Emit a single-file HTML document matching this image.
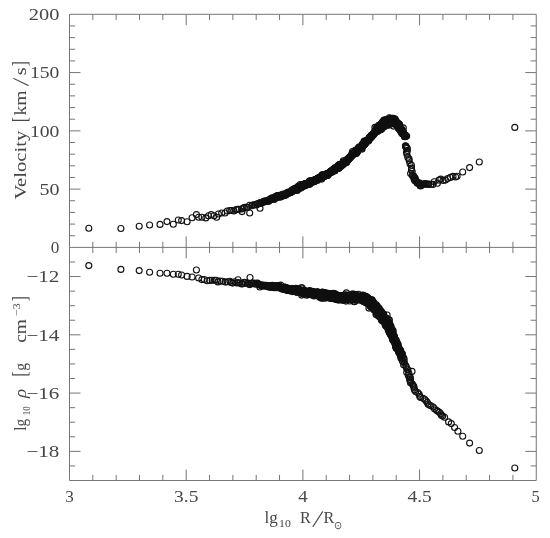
<!DOCTYPE html>
<html><head><meta charset="utf-8"><title>Velocity and density profile</title>
<style>
html,body{margin:0;padding:0;background:#fff;}
svg{display:block;}
text{font-family:"Liberation Serif",serif;fill:#474747;}
</style></head><body>
<svg width="550" height="538" viewBox="0 0 550 538">
<rect width="550" height="538" fill="#fff"/>
<path d="M69.5 14.3H536.25V480.5H69.5Z M69.5 247.4H536.25 M92.84 14.3v5.6 M92.84 241.8v11.2 M92.84 480.5v-5.6 M116.17 14.3v5.6 M116.17 241.8v11.2 M116.17 480.5v-5.6 M139.51 14.3v5.6 M139.51 241.8v11.2 M139.51 480.5v-5.6 M162.85 14.3v5.6 M162.85 241.8v11.2 M162.85 480.5v-5.6 M186.19 14.3v11.0 M186.19 236.4v22.0 M186.19 480.5v-11.0 M209.52 14.3v5.6 M209.52 241.8v11.2 M209.52 480.5v-5.6 M232.86 14.3v5.6 M232.86 241.8v11.2 M232.86 480.5v-5.6 M256.20 14.3v5.6 M256.20 241.8v11.2 M256.20 480.5v-5.6 M279.54 14.3v5.6 M279.54 241.8v11.2 M279.54 480.5v-5.6 M302.88 14.3v11.0 M302.88 236.4v22.0 M302.88 480.5v-11.0 M326.21 14.3v5.6 M326.21 241.8v11.2 M326.21 480.5v-5.6 M349.55 14.3v5.6 M349.55 241.8v11.2 M349.55 480.5v-5.6 M372.89 14.3v5.6 M372.89 241.8v11.2 M372.89 480.5v-5.6 M396.22 14.3v5.6 M396.22 241.8v11.2 M396.22 480.5v-5.6 M419.56 14.3v11.0 M419.56 236.4v22.0 M419.56 480.5v-11.0 M442.90 14.3v5.6 M442.90 241.8v11.2 M442.90 480.5v-5.6 M466.24 14.3v5.6 M466.24 241.8v11.2 M466.24 480.5v-5.6 M489.57 14.3v5.6 M489.57 241.8v11.2 M489.57 480.5v-5.6 M512.91 14.3v5.6 M512.91 241.8v11.2 M512.91 480.5v-5.6 M69.5 25.95h5.6 M536.25 25.95h-5.6 M69.5 37.61h5.6 M536.25 37.61h-5.6 M69.5 49.27h5.6 M536.25 49.27h-5.6 M69.5 60.92h5.6 M536.25 60.92h-5.6 M69.5 72.58h11.0 M536.25 72.58h-11.0 M69.5 84.23h5.6 M536.25 84.23h-5.6 M69.5 95.88h5.6 M536.25 95.88h-5.6 M69.5 107.54h5.6 M536.25 107.54h-5.6 M69.5 119.19h5.6 M536.25 119.19h-5.6 M69.5 130.85h11.0 M536.25 130.85h-11.0 M69.5 142.50h5.6 M536.25 142.50h-5.6 M69.5 154.16h5.6 M536.25 154.16h-5.6 M69.5 165.81h5.6 M536.25 165.81h-5.6 M69.5 177.47h5.6 M536.25 177.47h-5.6 M69.5 189.12h11.0 M536.25 189.12h-11.0 M69.5 200.78h5.6 M536.25 200.78h-5.6 M69.5 212.44h5.6 M536.25 212.44h-5.6 M69.5 224.09h5.6 M536.25 224.09h-5.6 M69.5 235.75h5.6 M536.25 235.75h-5.6 M69.5 261.97h5.6 M536.25 261.97h-5.6 M69.5 276.54h11.0 M536.25 276.54h-11.0 M69.5 291.11h5.6 M536.25 291.11h-5.6 M69.5 305.68h5.6 M536.25 305.68h-5.6 M69.5 320.24h5.6 M536.25 320.24h-5.6 M69.5 334.81h11.0 M536.25 334.81h-11.0 M69.5 349.38h5.6 M536.25 349.38h-5.6 M69.5 363.95h5.6 M536.25 363.95h-5.6 M69.5 378.52h5.6 M536.25 378.52h-5.6 M69.5 393.09h11.0 M536.25 393.09h-11.0 M69.5 407.66h5.6 M536.25 407.66h-5.6 M69.5 422.23h5.6 M536.25 422.23h-5.6 M69.5 436.79h5.6 M536.25 436.79h-5.6 M69.5 451.36h11.0 M536.25 451.36h-11.0 M69.5 465.93h5.6 M536.25 465.93h-5.6" fill="none" stroke="#767676" stroke-width="1"/>
<text x="59.4" y="20.1" font-size="17.2" text-anchor="end" textLength="30.6" lengthAdjust="spacingAndGlyphs">200</text>
<text x="59.4" y="78.4" font-size="17.2" text-anchor="end" textLength="29.4" lengthAdjust="spacingAndGlyphs">150</text>
<text x="59.4" y="136.7" font-size="17.2" text-anchor="end" textLength="29.4" lengthAdjust="spacingAndGlyphs">100</text>
<text x="59.4" y="194.9" font-size="17.2" text-anchor="end" textLength="20.0" lengthAdjust="spacingAndGlyphs">50</text>
<text x="59.4" y="253.2" font-size="17.2" text-anchor="end" textLength="8.6" lengthAdjust="spacingAndGlyphs">0</text>
<text x="59.4" y="282.3" font-size="17.2" text-anchor="end" textLength="33" lengthAdjust="spacingAndGlyphs">−12</text>
<text x="59.4" y="340.6" font-size="17.2" text-anchor="end" textLength="33" lengthAdjust="spacingAndGlyphs">−14</text>
<text x="59.4" y="398.9" font-size="17.2" text-anchor="end" textLength="33" lengthAdjust="spacingAndGlyphs">−16</text>
<text x="59.4" y="457.2" font-size="17.2" text-anchor="end" textLength="33" lengthAdjust="spacingAndGlyphs">−18</text>
<text x="69.5" y="501.6" font-size="17.2" text-anchor="middle" textLength="8.6" lengthAdjust="spacingAndGlyphs">3</text>
<text x="186.2" y="501.6" font-size="17.2" text-anchor="middle" textLength="24.3" lengthAdjust="spacingAndGlyphs">3.5</text>
<text x="302.9" y="501.6" font-size="17.2" text-anchor="middle" textLength="9.4" lengthAdjust="spacingAndGlyphs">4</text>
<text x="419.6" y="501.6" font-size="17.2" text-anchor="middle" textLength="24.3" lengthAdjust="spacingAndGlyphs">4.5</text>
<text x="535.5" y="501.6" font-size="17.2" text-anchor="middle" textLength="8.2" lengthAdjust="spacingAndGlyphs">5</text>
<text font-size="17"><tspan x="264.4" y="523.3" textLength="13.3" lengthAdjust="spacingAndGlyphs">lg</tspan><tspan x="279" y="527.4" font-size="9.5" textLength="11.8" lengthAdjust="spacingAndGlyphs">10</tspan> <tspan x="300" y="523.3" textLength="10.8" lengthAdjust="spacingAndGlyphs">R</tspan><tspan x="312.2" y="526.6" font-size="26" rotate="14">/</tspan><tspan x="323.4" y="523.3" textLength="10.8" lengthAdjust="spacingAndGlyphs">R</tspan><tspan x="334.2" y="528.6" font-size="10.5" textLength="8" lengthAdjust="spacingAndGlyphs">⊙</tspan></text>
<text transform="translate(25.8 199.5) rotate(-90)" font-size="17"><tspan x="0" y="0" textLength="68.8" lengthAdjust="spacingAndGlyphs">Velocity</tspan> <tspan x="77.6" y="0" font-size="20.5" textLength="5" lengthAdjust="spacingAndGlyphs">[</tspan><tspan x="84" y="0" textLength="25" lengthAdjust="spacingAndGlyphs">km</tspan><tspan x="113.2" y="2.4" font-size="24" rotate="7">/</tspan><tspan x="124.2" y="0" textLength="8" lengthAdjust="spacingAndGlyphs">s</tspan><tspan x="133.3" y="0" font-size="20.5" textLength="5" lengthAdjust="spacingAndGlyphs">]</tspan></text>
<text transform="translate(25.8 430.8) rotate(-90)" font-size="17"><tspan x="0" y="0" textLength="11.9" lengthAdjust="spacingAndGlyphs">lg</tspan><tspan x="15.6" y="3.7" font-size="9.5" textLength="8.9" lengthAdjust="spacingAndGlyphs">10</tspan> <tspan x="32.7" y="0" font-style="italic" textLength="9.2" lengthAdjust="spacingAndGlyphs">ρ</tspan> <tspan x="54.4" y="0" font-size="20.5" textLength="5" lengthAdjust="spacingAndGlyphs">[</tspan><tspan x="60" y="0" textLength="7.8" lengthAdjust="spacingAndGlyphs">g</tspan> <tspan x="88" y="0" textLength="23.8" lengthAdjust="spacingAndGlyphs">cm</tspan><tspan x="114.8" y="-5.9" font-size="9.5" textLength="12.6" lengthAdjust="spacingAndGlyphs">−3</tspan><tspan x="129.6" y="0" font-size="20.5" textLength="5" lengthAdjust="spacingAndGlyphs">]</tspan></text>
<g fill="none" stroke="#000" stroke-linecap="round"><path d="M272.0 199.0L273.3 198.5" stroke-width="5.5"/><path d="M273.3 198.5L274.6 198.1" stroke-width="5.5"/><path d="M274.6 198.1L275.8 197.7" stroke-width="5.5"/><path d="M275.8 197.7L277.1 197.2" stroke-width="5.5"/><path d="M277.1 197.2L278.3 196.7" stroke-width="5.5"/><path d="M278.3 196.7L279.6 196.3" stroke-width="5.5"/><path d="M279.6 196.3L280.8 195.8" stroke-width="5.5"/><path d="M280.8 195.8L282.1 195.3" stroke-width="5.6"/><path d="M282.1 195.3L283.3 194.8" stroke-width="5.6"/><path d="M283.3 194.8L284.6 194.4" stroke-width="5.6"/><path d="M284.6 194.4L285.8 193.9" stroke-width="5.6"/><path d="M285.8 193.9L287.1 193.4" stroke-width="5.6"/><path d="M287.1 193.4L288.3 192.9" stroke-width="5.6"/><path d="M288.3 192.9L289.6 192.4" stroke-width="5.6"/><path d="M289.6 192.4L290.8 191.9" stroke-width="5.6"/><path d="M290.8 191.9L292.0 191.3" stroke-width="5.6"/><path d="M292.0 191.3L293.2 190.7" stroke-width="5.6"/><path d="M293.2 190.7L294.4 190.1" stroke-width="5.6"/><path d="M294.4 190.1L295.6 189.6" stroke-width="5.7"/><path d="M295.6 189.6L296.8 189.0" stroke-width="5.7"/><path d="M296.8 189.0L298.0 188.4" stroke-width="5.7"/><path d="M298.0 188.4L299.3 187.8" stroke-width="5.7"/><path d="M299.3 187.8L300.5 187.2" stroke-width="5.7"/><path d="M300.5 187.2L301.7 186.6" stroke-width="5.7"/><path d="M301.7 186.6L302.9 186.0" stroke-width="5.7"/><path d="M302.9 186.0L304.1 185.5" stroke-width="5.7"/><path d="M304.1 185.5L305.3 184.9" stroke-width="5.7"/><path d="M305.3 184.9L306.5 184.3" stroke-width="5.7"/><path d="M306.5 184.3L307.7 183.7" stroke-width="5.7"/><path d="M307.7 183.7L308.9 183.1" stroke-width="5.6"/><path d="M308.9 183.1L310.1 182.5" stroke-width="5.6"/><path d="M310.1 182.5L311.3 181.9" stroke-width="5.6"/><path d="M311.3 181.9L312.5 181.3" stroke-width="5.6"/><path d="M312.5 181.3L313.7 180.7" stroke-width="5.6"/><path d="M313.7 180.7L314.9 180.1" stroke-width="5.6"/><path d="M314.9 180.1L316.1 179.5" stroke-width="5.6"/><path d="M316.1 179.5L317.3 178.9" stroke-width="5.6"/><path d="M317.3 178.9L318.5 178.3" stroke-width="5.6"/><path d="M318.5 178.3L319.7 177.7" stroke-width="5.6"/><path d="M319.7 177.7L320.9 177.2" stroke-width="5.6"/><path d="M320.9 177.2L322.1 176.6" stroke-width="5.5"/><path d="M322.1 176.6L323.3 176.0" stroke-width="5.5"/><path d="M323.3 176.0L324.5 175.4" stroke-width="5.5"/><path d="M324.5 175.4L325.7 174.8" stroke-width="5.5"/><path d="M325.7 174.8L326.9 174.2" stroke-width="5.5"/><path d="M326.9 174.2L328.1 173.6" stroke-width="5.5"/><path d="M328.1 173.6L329.3 173.0" stroke-width="5.5"/><path d="M329.3 173.0L330.4 172.3" stroke-width="5.5"/><path d="M330.4 172.3L331.5 171.5" stroke-width="5.5"/><path d="M331.5 171.5L332.6 170.8" stroke-width="5.5"/><path d="M332.6 170.8L333.8 170.0" stroke-width="5.5"/><path d="M333.8 170.0L334.9 169.3" stroke-width="5.4"/><path d="M334.9 169.3L336.0 168.5" stroke-width="5.4"/><path d="M336.0 168.5L337.1 167.8" stroke-width="5.4"/><path d="M337.1 167.8L338.2 167.0" stroke-width="5.4"/><path d="M338.2 167.0L339.3 166.2" stroke-width="5.4"/><path d="M339.3 166.2L340.3 165.4" stroke-width="5.4"/><path d="M340.3 165.4L341.4 164.6" stroke-width="5.4"/><path d="M341.4 164.6L342.4 163.7" stroke-width="5.4"/><path d="M342.4 163.7L343.5 162.9" stroke-width="5.4"/><path d="M343.5 162.9L344.6 162.1" stroke-width="5.4"/><path d="M344.6 162.1L345.6 161.3" stroke-width="5.4"/><path d="M345.6 161.3L346.7 160.4" stroke-width="5.4"/><path d="M346.7 160.4L347.7 159.6" stroke-width="5.4"/><path d="M347.7 159.6L348.7 158.7" stroke-width="5.4"/><path d="M348.7 158.7L349.6 157.7" stroke-width="5.4"/><path d="M349.6 157.7L350.6 156.8" stroke-width="5.4"/><path d="M350.6 156.8L351.6 155.9" stroke-width="5.4"/><path d="M351.6 155.9L352.6 155.0" stroke-width="5.4"/><path d="M352.6 155.0L353.6 154.1" stroke-width="5.4"/><path d="M353.6 154.1L354.5 153.2" stroke-width="5.4"/><path d="M354.5 153.2L355.5 152.3" stroke-width="5.4"/><path d="M355.5 152.3L356.5 151.3" stroke-width="5.4"/><path d="M356.5 151.3L357.5 150.4" stroke-width="5.4"/><path d="M357.5 150.4L358.5 149.5" stroke-width="5.4"/><path d="M358.5 149.5L359.5 148.6" stroke-width="5.4"/><path d="M359.5 148.6L360.4 147.7" stroke-width="5.4"/><path d="M360.4 147.7L361.4 146.8" stroke-width="5.4"/><path d="M361.4 146.8L362.3 145.8" stroke-width="5.4"/><path d="M362.3 145.8L363.2 144.8" stroke-width="5.4"/><path d="M363.2 144.8L364.1 143.8" stroke-width="5.4"/><path d="M364.1 143.8L365.0 142.8" stroke-width="5.4"/><path d="M365.0 142.8L365.9 141.8" stroke-width="5.4"/><path d="M365.9 141.8L366.8 140.8" stroke-width="5.4"/><path d="M366.8 140.8L367.7 139.8" stroke-width="5.4"/><path d="M367.7 139.8L368.6 138.8" stroke-width="5.4"/><path d="M368.6 138.8L369.5 137.9" stroke-width="5.4"/><path d="M369.5 137.9L370.4 136.9" stroke-width="5.4"/><path d="M370.4 136.9L371.3 135.9" stroke-width="5.4"/><path d="M371.3 135.9L372.3 134.9" stroke-width="5.4"/><path d="M372.3 134.9L373.2 133.9" stroke-width="5.5"/><path d="M373.2 133.9L374.1 133.0" stroke-width="5.8"/><path d="M374.1 133.0L375.0 132.0" stroke-width="6.1"/><path d="M375.0 132.0L375.9 131.0" stroke-width="6.4"/><path d="M375.9 131.0L376.9 130.1" stroke-width="6.7"/><path d="M376.9 130.1L377.8 129.1" stroke-width="7.1"/><path d="M377.8 129.1L378.8 128.2" stroke-width="7.4"/><path d="M378.8 128.2L379.8 127.3" stroke-width="7.7"/><path d="M379.8 127.3L380.8 126.4" stroke-width="8.0"/><path d="M380.8 126.4L381.8 125.5" stroke-width="8.4"/><path d="M381.8 125.5L382.8 124.6" stroke-width="8.7"/><path d="M382.8 124.6L383.8 123.8" stroke-width="8.9"/><path d="M383.8 123.8L384.9 123.0" stroke-width="9.1"/><path d="M384.9 123.0L386.1 122.3" stroke-width="9.3"/><path d="M386.1 122.3L387.2 121.6" stroke-width="9.6"/><path d="M387.2 121.6L388.4 121.1" stroke-width="9.8"/><path d="M388.4 121.1L389.7 120.8" stroke-width="10.0"/><path d="M389.7 120.8L391.0 120.5" stroke-width="10.2"/><path d="M391.0 120.5L392.3 120.8" stroke-width="9.9"/><path d="M392.3 120.8L393.6 121.1" stroke-width="9.4"/><path d="M393.6 121.1L394.6 121.9" stroke-width="9.0"/><path d="M394.6 121.9L395.5 122.9" stroke-width="8.6"/><path d="M395.5 122.9L396.4 123.9" stroke-width="8.2"/><path d="M396.4 123.9L397.3 124.9" stroke-width="7.9"/><path d="M397.3 124.9L398.1 126.0" stroke-width="7.6"/><path d="M398.1 126.0L398.8 127.1" stroke-width="7.3"/><path d="M398.8 127.1L399.6 128.2" stroke-width="7.1"/><path d="M399.6 128.2L400.3 129.3" stroke-width="6.8"/><path d="M400.3 129.3L401.1 130.4" stroke-width="6.6"/><path d="M401.1 130.4L401.8 131.6" stroke-width="6.4"/><path d="M401.8 131.6L402.5 132.7" stroke-width="6.2"/><path d="M402.5 132.7L403.3 133.8" stroke-width="6.0"/><path d="M403.3 133.8L404.0 134.9" stroke-width="5.8"/><path d="M404.0 134.9L404.8 136.0" stroke-width="5.6"/><path d="M404.8 136.0L405.4 136.9" stroke-width="5.4"/><path d="M264.0 285.5L265.9 285.7" stroke-width="5.5"/><path d="M265.9 285.7L267.9 286.0" stroke-width="5.6"/><path d="M267.9 286.0L269.8 286.3" stroke-width="5.8"/><path d="M269.8 286.3L271.7 286.6" stroke-width="5.9"/><path d="M271.7 286.6L273.6 286.9" stroke-width="6.0"/><path d="M273.6 286.9L275.6 287.1" stroke-width="6.1"/><path d="M275.6 287.1L277.5 287.4" stroke-width="6.2"/><path d="M277.5 287.4L279.4 287.7" stroke-width="6.3"/><path d="M279.4 287.7L281.3 288.0" stroke-width="6.4"/><path d="M281.3 288.0L283.3 288.3" stroke-width="6.5"/><path d="M283.3 288.3L285.2 288.5" stroke-width="6.6"/><path d="M285.2 288.5L287.1 288.8" stroke-width="6.7"/><path d="M287.1 288.8L289.0 289.1" stroke-width="6.8"/><path d="M289.0 289.1L291.0 289.3" stroke-width="6.9"/><path d="M291.0 289.3L292.9 289.6" stroke-width="7.0"/><path d="M292.9 289.6L294.8 289.9" stroke-width="7.1"/><path d="M294.8 289.9L296.7 290.2" stroke-width="7.2"/><path d="M296.7 290.2L298.6 290.6" stroke-width="7.3"/><path d="M298.6 290.6L300.6 291.0" stroke-width="7.4"/><path d="M300.6 291.0L302.5 291.4" stroke-width="7.6"/><path d="M302.5 291.4L304.4 291.8" stroke-width="7.7"/><path d="M304.4 291.8L306.3 292.2" stroke-width="7.8"/><path d="M306.3 292.2L308.2 292.5" stroke-width="8.0"/><path d="M308.2 292.5L310.1 292.9" stroke-width="8.1"/><path d="M310.1 292.9L312.0 293.3" stroke-width="8.2"/><path d="M312.0 293.3L313.9 293.6" stroke-width="8.3"/><path d="M313.9 293.6L315.8 294.0" stroke-width="8.5"/><path d="M315.8 294.0L317.7 294.3" stroke-width="8.6"/><path d="M317.7 294.3L319.7 294.6" stroke-width="8.7"/><path d="M319.7 294.6L321.6 295.0" stroke-width="8.8"/><path d="M321.6 295.0L323.5 295.3" stroke-width="9.0"/><path d="M323.5 295.3L325.4 295.6" stroke-width="9.1"/><path d="M325.4 295.6L327.3 295.9" stroke-width="9.2"/><path d="M327.3 295.9L329.3 296.1" stroke-width="9.2"/><path d="M329.3 296.1L331.2 296.4" stroke-width="9.2"/><path d="M331.2 296.4L333.1 296.6" stroke-width="9.2"/><path d="M333.1 296.6L335.1 296.9" stroke-width="9.2"/><path d="M335.1 296.9L337.0 297.0" stroke-width="9.2"/><path d="M337.0 297.0L338.9 297.1" stroke-width="9.2"/><path d="M338.9 297.1L340.9 297.1" stroke-width="9.2"/><path d="M340.9 297.1L342.8 297.2" stroke-width="9.2"/><path d="M342.8 297.2L344.8 297.2" stroke-width="9.2"/><path d="M344.8 297.2L346.7 297.3" stroke-width="9.2"/><path d="M346.7 297.3L348.7 297.3" stroke-width="9.2"/><path d="M348.7 297.3L350.6 297.2" stroke-width="9.2"/><path d="M350.6 297.2L352.6 297.2" stroke-width="9.2"/><path d="M352.6 297.2L354.5 297.2" stroke-width="9.2"/><path d="M354.5 297.2L356.5 297.1" stroke-width="9.2"/><path d="M356.5 297.1L358.4 297.3" stroke-width="9.2"/><path d="M358.4 297.3L360.3 297.7" stroke-width="9.2"/><path d="M360.3 297.7L362.2 298.1" stroke-width="9.2"/><path d="M362.2 298.1L364.0 298.6" stroke-width="9.4"/><path d="M364.0 298.6L365.8 299.3" stroke-width="9.6"/><path d="M365.8 299.3L367.4 300.4" stroke-width="9.8"/><path d="M367.4 300.4L368.9 301.6" stroke-width="9.9"/><path d="M368.9 301.6L370.5 302.8" stroke-width="10.1"/><path d="M370.5 302.8L371.9 304.1" stroke-width="10.2"/><path d="M371.9 304.1L373.2 305.5" stroke-width="10.4"/><path d="M373.2 305.5L374.6 307.0" stroke-width="10.3"/><path d="M374.6 307.0L375.9 308.4" stroke-width="10.3"/><path d="M375.9 308.4L377.1 309.9" stroke-width="10.2"/><path d="M377.1 309.9L378.3 311.4" stroke-width="10.1"/><path d="M378.3 311.4L379.5 313.0" stroke-width="10.1"/><path d="M379.5 313.0L380.7 314.5" stroke-width="10.0"/><path d="M380.7 314.5L381.8 316.1" stroke-width="10.0"/><path d="M381.8 316.1L383.0 317.6" stroke-width="9.9"/><path d="M383.0 317.6L384.1 319.2" stroke-width="9.9"/><path d="M384.1 319.2L385.3 320.8" stroke-width="9.8"/><path d="M385.3 320.8L386.3 322.4" stroke-width="9.5"/><path d="M386.3 322.4L387.3 324.1" stroke-width="9.2"/><path d="M387.3 324.1L388.1 325.9" stroke-width="8.9"/><path d="M388.1 325.9L389.0 327.6" stroke-width="8.7"/><path d="M389.0 327.6L389.8 329.4" stroke-width="8.4"/><path d="M389.8 329.4L390.7 331.1" stroke-width="8.2"/><path d="M390.7 331.1L391.5 332.9" stroke-width="8.0"/><path d="M391.5 332.9L392.3 334.6" stroke-width="7.7"/><path d="M392.3 334.6L393.1 336.4" stroke-width="7.6"/><path d="M393.1 336.4L393.9 338.2" stroke-width="7.5"/><path d="M393.9 338.2L394.6 340.0" stroke-width="7.4"/><path d="M394.6 340.0L395.4 341.8" stroke-width="7.3"/><path d="M395.4 341.8L396.2 343.6" stroke-width="7.2"/><path d="M396.2 343.6L396.9 345.4" stroke-width="7.1"/><path d="M396.9 345.4L397.7 347.2" stroke-width="7.0"/><path d="M397.7 347.2L398.4 349.0" stroke-width="6.9"/><path d="M398.4 349.0L399.2 350.8" stroke-width="6.8"/></g>
<g fill="none" stroke="#111" stroke-width="1.12"><circle cx="88.8" cy="228.3" r="3.0"/><circle cx="120.9" cy="228.5" r="3.0"/><circle cx="139.2" cy="226.2" r="3.0"/><circle cx="149.6" cy="225.0" r="3.0"/><circle cx="160.0" cy="224.4" r="3.0"/><circle cx="167.0" cy="221.6" r="3.0"/><circle cx="173.3" cy="224.3" r="3.0"/><circle cx="178.3" cy="220.0" r="3.0"/><circle cx="181.6" cy="220.6" r="3.0"/><circle cx="187.1" cy="221.7" r="3.0"/><circle cx="192.1" cy="217.7" r="3.0"/><circle cx="196.4" cy="214.6" r="3.0"/><circle cx="198.6" cy="217.3" r="3.0"/><circle cx="201.9" cy="217.3" r="3.0"/><circle cx="88.8" cy="265.6" r="3.0"/><circle cx="120.9" cy="269.4" r="3.0"/><circle cx="139.2" cy="270.6" r="3.0"/><circle cx="149.6" cy="272.2" r="3.0"/><circle cx="160.0" cy="273.2" r="3.0"/><circle cx="167.0" cy="273.2" r="3.0"/><circle cx="173.3" cy="274.3" r="3.0"/><circle cx="178.3" cy="274.2" r="3.0"/><circle cx="181.6" cy="275.0" r="3.0"/><circle cx="187.1" cy="276.4" r="3.0"/><circle cx="192.1" cy="277.0" r="3.0"/><circle cx="196.4" cy="270.0" r="3.0"/><circle cx="198.6" cy="278.0" r="3.0"/><circle cx="201.9" cy="279.6" r="3.0"/><circle cx="205.8" cy="217.9" r="3.0"/><circle cx="208.5" cy="215.7" r="3.0"/><circle cx="211.2" cy="214.6" r="3.0"/><circle cx="214.0" cy="215.7" r="3.0"/><circle cx="216.7" cy="217.3" r="3.0"/><circle cx="218.4" cy="214.0" r="3.0"/><circle cx="221.7" cy="213.0" r="3.0"/><circle cx="225.0" cy="213.0" r="3.0"/><circle cx="249.7" cy="213.0" r="3.0"/><circle cx="260.0" cy="208.3" r="3.0"/><circle cx="242.0" cy="211.6" r="3.0"/><circle cx="250.0" cy="277.5" r="3.0"/><circle cx="238.0" cy="279.7" r="3.0"/><circle cx="412.0" cy="371.4" r="3.0"/><circle cx="227.2" cy="211.0" r="3.0"/><circle cx="229.7" cy="210.6" r="3.0"/><circle cx="231.6" cy="210.5" r="3.0"/><circle cx="233.9" cy="210.9" r="3.0"/><circle cx="236.1" cy="209.6" r="3.0"/><circle cx="237.6" cy="209.4" r="3.0"/><circle cx="239.0" cy="209.2" r="3.0"/><circle cx="241.7" cy="209.0" r="3.0"/><circle cx="242.9" cy="208.2" r="3.0"/><circle cx="244.4" cy="207.4" r="3.0"/><circle cx="246.4" cy="207.4" r="3.0"/><circle cx="247.9" cy="207.2" r="3.0"/><circle cx="249.5" cy="205.3" r="3.0"/><circle cx="251.7" cy="205.8" r="3.0"/><circle cx="252.6" cy="205.1" r="3.0"/><circle cx="254.2" cy="204.8" r="3.0"/><circle cx="255.1" cy="204.8" r="3.0"/><circle cx="256.6" cy="204.9" r="3.0"/><circle cx="257.7" cy="203.5" r="3.0"/><circle cx="259.1" cy="203.5" r="3.0"/><circle cx="260.1" cy="202.5" r="3.0"/><circle cx="260.9" cy="203.1" r="3.0"/><circle cx="261.7" cy="203.1" r="3.0"/><circle cx="262.7" cy="202.3" r="3.0"/><circle cx="263.2" cy="201.9" r="3.0"/><circle cx="263.9" cy="201.2" r="3.0"/><circle cx="264.6" cy="201.0" r="3.0"/><circle cx="265.6" cy="201.7" r="3.0"/><circle cx="266.2" cy="201.3" r="3.0"/><circle cx="266.6" cy="200.9" r="3.0"/><circle cx="267.2" cy="201.5" r="3.0"/><circle cx="267.5" cy="200.4" r="3.0"/><circle cx="268.0" cy="200.5" r="3.0"/><circle cx="268.7" cy="201.2" r="3.0"/><circle cx="269.0" cy="200.7" r="3.0"/><circle cx="269.2" cy="199.7" r="3.0"/><circle cx="269.7" cy="199.7" r="3.0"/><circle cx="270.3" cy="199.4" r="3.0"/><circle cx="270.7" cy="198.6" r="3.0"/><circle cx="271.4" cy="199.2" r="3.0"/><circle cx="271.7" cy="198.7" r="3.0"/><circle cx="272.0" cy="197.7" r="3.0"/><circle cx="273.0" cy="198.8" r="3.0"/><circle cx="273.8" cy="199.4" r="3.0"/><circle cx="274.1" cy="198.3" r="3.0"/><circle cx="274.7" cy="199.1" r="3.0"/><circle cx="274.9" cy="198.0" r="3.0"/><circle cx="274.9" cy="196.9" r="3.0"/><circle cx="275.5" cy="197.2" r="3.0"/><circle cx="275.8" cy="196.8" r="3.0"/><circle cx="276.3" cy="196.4" r="3.0"/><circle cx="277.2" cy="197.5" r="3.0"/><circle cx="277.6" cy="197.2" r="3.0"/><circle cx="277.3" cy="195.6" r="3.0"/><circle cx="277.6" cy="195.7" r="3.0"/><circle cx="278.6" cy="197.0" r="3.0"/><circle cx="278.5" cy="195.6" r="3.0"/><circle cx="279.1" cy="196.2" r="3.0"/><circle cx="279.2" cy="195.8" r="3.0"/><circle cx="279.4" cy="195.2" r="3.0"/><circle cx="280.6" cy="197.1" r="3.0"/><circle cx="280.4" cy="195.5" r="3.0"/><circle cx="280.9" cy="196.1" r="3.0"/><circle cx="281.4" cy="196.6" r="3.0"/><circle cx="281.5" cy="196.1" r="3.0"/><circle cx="281.5" cy="195.2" r="3.0"/><circle cx="282.0" cy="195.5" r="3.0"/><circle cx="282.7" cy="195.9" r="3.0"/><circle cx="282.4" cy="194.4" r="3.0"/><circle cx="282.9" cy="194.6" r="3.0"/><circle cx="283.3" cy="195.0" r="3.0"/><circle cx="283.5" cy="194.2" r="3.0"/><circle cx="283.9" cy="194.3" r="3.0"/><circle cx="284.7" cy="195.4" r="3.0"/><circle cx="285.0" cy="195.2" r="3.0"/><circle cx="285.4" cy="194.9" r="3.0"/><circle cx="285.3" cy="194.0" r="3.0"/><circle cx="285.9" cy="194.8" r="3.0"/><circle cx="286.1" cy="194.6" r="3.0"/><circle cx="286.0" cy="193.4" r="3.0"/><circle cx="286.6" cy="194.0" r="3.0"/><circle cx="286.8" cy="193.6" r="3.0"/><circle cx="287.1" cy="193.2" r="3.0"/><circle cx="287.6" cy="193.4" r="3.0"/><circle cx="287.6" cy="192.6" r="3.0"/><circle cx="287.9" cy="192.3" r="3.0"/><circle cx="288.4" cy="193.3" r="3.0"/><circle cx="288.6" cy="192.9" r="3.0"/><circle cx="288.6" cy="192.0" r="3.0"/><circle cx="289.3" cy="192.9" r="3.0"/><circle cx="289.4" cy="192.5" r="3.0"/><circle cx="289.6" cy="192.3" r="3.0"/><circle cx="290.0" cy="192.6" r="3.0"/><circle cx="290.2" cy="192.4" r="3.0"/><circle cx="290.5" cy="192.4" r="3.0"/><circle cx="290.8" cy="192.3" r="3.0"/><circle cx="290.8" cy="191.6" r="3.0"/><circle cx="291.3" cy="191.9" r="3.0"/><circle cx="291.5" cy="191.8" r="3.0"/><circle cx="291.8" cy="191.8" r="3.0"/><circle cx="292.0" cy="191.5" r="3.0"/><circle cx="291.7" cy="190.2" r="3.0"/><circle cx="292.4" cy="190.8" r="3.0"/><circle cx="292.7" cy="190.8" r="3.0"/><circle cx="292.5" cy="189.9" r="3.0"/><circle cx="292.9" cy="190.2" r="3.0"/><circle cx="293.1" cy="190.1" r="3.0"/><circle cx="293.8" cy="190.8" r="3.0"/><circle cx="293.4" cy="189.5" r="3.0"/><circle cx="294.0" cy="190.2" r="3.0"/><circle cx="294.0" cy="189.3" r="3.0"/><circle cx="294.3" cy="189.4" r="3.0"/><circle cx="294.6" cy="189.4" r="3.0"/><circle cx="294.7" cy="189.1" r="3.0"/><circle cx="294.8" cy="188.9" r="3.0"/><circle cx="294.8" cy="188.2" r="3.0"/><circle cx="295.6" cy="189.1" r="3.0"/><circle cx="295.6" cy="188.5" r="3.0"/><circle cx="296.3" cy="189.5" r="3.0"/><circle cx="296.5" cy="189.2" r="3.0"/><circle cx="297.2" cy="190.4" r="3.0"/><circle cx="296.5" cy="188.3" r="3.0"/><circle cx="297.4" cy="189.8" r="3.0"/><circle cx="296.7" cy="187.9" r="3.0"/><circle cx="297.5" cy="188.8" r="3.0"/><circle cx="297.9" cy="189.0" r="3.0"/><circle cx="297.8" cy="188.3" r="3.0"/><circle cx="298.2" cy="188.5" r="3.0"/><circle cx="298.6" cy="188.7" r="3.0"/><circle cx="298.3" cy="187.7" r="3.0"/><circle cx="298.4" cy="187.4" r="3.0"/><circle cx="298.1" cy="186.4" r="3.0"/><circle cx="299.4" cy="188.5" r="3.0"/><circle cx="299.3" cy="187.8" r="3.0"/><circle cx="299.3" cy="187.2" r="3.0"/><circle cx="299.9" cy="187.8" r="3.0"/><circle cx="300.1" cy="187.5" r="3.0"/><circle cx="300.5" cy="188.0" r="3.0"/><circle cx="300.1" cy="186.8" r="3.0"/><circle cx="300.8" cy="187.7" r="3.0"/><circle cx="300.8" cy="187.0" r="3.0"/><circle cx="301.2" cy="187.5" r="3.0"/><circle cx="300.1" cy="184.6" r="3.0"/><circle cx="301.1" cy="186.3" r="3.0"/><circle cx="301.3" cy="186.0" r="3.0"/><circle cx="301.3" cy="185.7" r="3.0"/><circle cx="302.2" cy="186.9" r="3.0"/><circle cx="302.2" cy="186.3" r="3.0"/><circle cx="301.8" cy="185.1" r="3.0"/><circle cx="302.1" cy="185.3" r="3.0"/><circle cx="302.4" cy="185.3" r="3.0"/><circle cx="302.6" cy="185.3" r="3.0"/><circle cx="303.2" cy="186.1" r="3.0"/><circle cx="302.8" cy="184.7" r="3.0"/><circle cx="303.0" cy="184.7" r="3.0"/><circle cx="303.8" cy="185.6" r="3.0"/><circle cx="303.8" cy="185.2" r="3.0"/><circle cx="304.4" cy="185.9" r="3.0"/><circle cx="304.1" cy="184.9" r="3.0"/><circle cx="304.4" cy="184.8" r="3.0"/><circle cx="305.1" cy="185.7" r="3.0"/><circle cx="304.6" cy="184.3" r="3.0"/><circle cx="305.2" cy="184.7" r="3.0"/><circle cx="304.8" cy="183.6" r="3.0"/><circle cx="305.1" cy="183.9" r="3.0"/><circle cx="305.4" cy="184.0" r="3.0"/><circle cx="305.7" cy="184.1" r="3.0"/><circle cx="305.7" cy="183.7" r="3.0"/><circle cx="306.4" cy="184.4" r="3.0"/><circle cx="306.6" cy="184.6" r="3.0"/><circle cx="306.4" cy="183.7" r="3.0"/><circle cx="307.1" cy="184.6" r="3.0"/><circle cx="307.3" cy="184.6" r="3.0"/><circle cx="307.5" cy="184.7" r="3.0"/><circle cx="307.3" cy="183.9" r="3.0"/><circle cx="307.6" cy="184.1" r="3.0"/><circle cx="307.8" cy="184.1" r="3.0"/><circle cx="308.1" cy="184.3" r="3.0"/><circle cx="308.1" cy="183.8" r="3.0"/><circle cx="308.3" cy="183.6" r="3.0"/><circle cx="308.8" cy="184.2" r="3.0"/><circle cx="309.0" cy="184.0" r="3.0"/><circle cx="308.6" cy="182.9" r="3.0"/><circle cx="309.1" cy="183.3" r="3.0"/><circle cx="309.8" cy="184.3" r="3.0"/><circle cx="308.9" cy="182.0" r="3.0"/><circle cx="309.0" cy="181.5" r="3.0"/><circle cx="309.7" cy="182.6" r="3.0"/><circle cx="309.4" cy="181.8" r="3.0"/><circle cx="310.3" cy="183.1" r="3.0"/><circle cx="309.9" cy="182.1" r="3.0"/><circle cx="309.8" cy="181.4" r="3.0"/><circle cx="309.7" cy="180.7" r="3.0"/><circle cx="310.8" cy="182.4" r="3.0"/><circle cx="310.4" cy="181.2" r="3.0"/><circle cx="310.5" cy="181.3" r="3.0"/><circle cx="310.9" cy="181.6" r="3.0"/><circle cx="310.7" cy="180.9" r="3.0"/><circle cx="311.2" cy="181.3" r="3.0"/><circle cx="311.6" cy="181.5" r="3.0"/><circle cx="311.8" cy="181.3" r="3.0"/><circle cx="311.8" cy="181.1" r="3.0"/><circle cx="312.6" cy="182.2" r="3.0"/><circle cx="312.5" cy="181.5" r="3.0"/><circle cx="312.9" cy="181.7" r="3.0"/><circle cx="312.9" cy="181.0" r="3.0"/><circle cx="313.5" cy="181.8" r="3.0"/><circle cx="313.5" cy="181.4" r="3.0"/><circle cx="313.6" cy="181.1" r="3.0"/><circle cx="314.0" cy="181.3" r="3.0"/><circle cx="314.2" cy="181.4" r="3.0"/><circle cx="314.6" cy="181.5" r="3.0"/><circle cx="314.3" cy="180.7" r="3.0"/><circle cx="314.5" cy="180.4" r="3.0"/><circle cx="314.6" cy="180.3" r="3.0"/><circle cx="314.9" cy="180.4" r="3.0"/><circle cx="314.7" cy="179.6" r="3.0"/><circle cx="315.4" cy="180.5" r="3.0"/><circle cx="315.3" cy="179.7" r="3.0"/><circle cx="315.5" cy="179.8" r="3.0"/><circle cx="315.7" cy="179.8" r="3.0"/><circle cx="315.7" cy="179.3" r="3.0"/><circle cx="316.1" cy="179.6" r="3.0"/><circle cx="316.3" cy="179.7" r="3.0"/><circle cx="316.4" cy="179.6" r="3.0"/><circle cx="316.5" cy="179.2" r="3.0"/><circle cx="317.2" cy="180.5" r="3.0"/><circle cx="316.8" cy="179.2" r="3.0"/><circle cx="317.3" cy="179.7" r="3.0"/><circle cx="317.1" cy="178.8" r="3.0"/><circle cx="317.7" cy="179.6" r="3.0"/><circle cx="317.4" cy="178.5" r="3.0"/><circle cx="317.6" cy="178.5" r="3.0"/><circle cx="317.7" cy="178.4" r="3.0"/><circle cx="318.2" cy="178.7" r="3.0"/><circle cx="318.1" cy="178.0" r="3.0"/><circle cx="319.0" cy="179.1" r="3.0"/><circle cx="318.7" cy="178.2" r="3.0"/><circle cx="318.6" cy="177.7" r="3.0"/><circle cx="318.8" cy="177.7" r="3.0"/><circle cx="319.2" cy="177.9" r="3.0"/><circle cx="319.6" cy="178.5" r="3.0"/><circle cx="319.7" cy="178.1" r="3.0"/><circle cx="319.8" cy="178.0" r="3.0"/><circle cx="320.1" cy="178.0" r="3.0"/><circle cx="320.4" cy="178.2" r="3.0"/><circle cx="320.4" cy="177.9" r="3.0"/><circle cx="320.4" cy="177.5" r="3.0"/><circle cx="320.8" cy="177.9" r="3.0"/><circle cx="320.9" cy="177.8" r="3.0"/><circle cx="321.7" cy="179.1" r="3.0"/><circle cx="321.1" cy="177.5" r="3.0"/><circle cx="321.5" cy="177.6" r="3.0"/><circle cx="321.7" cy="177.7" r="3.0"/><circle cx="321.2" cy="176.3" r="3.0"/><circle cx="321.3" cy="176.1" r="3.0"/><circle cx="321.8" cy="176.7" r="3.0"/><circle cx="321.7" cy="175.9" r="3.0"/><circle cx="322.6" cy="177.3" r="3.0"/><circle cx="322.5" cy="176.6" r="3.0"/><circle cx="322.1" cy="175.0" r="3.0"/><circle cx="322.8" cy="176.1" r="3.0"/><circle cx="322.4" cy="174.9" r="3.0"/><circle cx="322.6" cy="174.8" r="3.0"/><circle cx="323.3" cy="176.1" r="3.0"/><circle cx="323.2" cy="175.4" r="3.0"/><circle cx="324.1" cy="176.7" r="3.0"/><circle cx="323.7" cy="175.6" r="3.0"/><circle cx="324.3" cy="176.2" r="3.0"/><circle cx="324.0" cy="175.2" r="3.0"/><circle cx="324.0" cy="174.6" r="3.0"/><circle cx="324.5" cy="175.1" r="3.0"/><circle cx="324.5" cy="174.9" r="3.0"/><circle cx="325.0" cy="175.4" r="3.0"/><circle cx="325.3" cy="175.6" r="3.0"/><circle cx="325.6" cy="175.7" r="3.0"/><circle cx="325.7" cy="175.6" r="3.0"/><circle cx="325.4" cy="174.5" r="3.0"/><circle cx="325.5" cy="174.3" r="3.0"/><circle cx="326.5" cy="175.6" r="3.0"/><circle cx="326.0" cy="174.4" r="3.0"/><circle cx="326.4" cy="174.9" r="3.0"/><circle cx="326.3" cy="174.1" r="3.0"/><circle cx="326.6" cy="174.4" r="3.0"/><circle cx="326.7" cy="174.0" r="3.0"/><circle cx="327.6" cy="175.4" r="3.0"/><circle cx="327.7" cy="175.2" r="3.0"/><circle cx="327.1" cy="173.6" r="3.0"/><circle cx="327.4" cy="173.9" r="3.0"/><circle cx="327.3" cy="173.6" r="3.0"/><circle cx="327.7" cy="174.0" r="3.0"/><circle cx="327.6" cy="173.4" r="3.0"/><circle cx="328.1" cy="173.9" r="3.0"/><circle cx="328.3" cy="173.8" r="3.0"/><circle cx="328.4" cy="173.5" r="3.0"/><circle cx="328.6" cy="173.5" r="3.0"/><circle cx="328.7" cy="173.2" r="3.0"/><circle cx="328.9" cy="173.1" r="3.0"/><circle cx="329.1" cy="172.9" r="3.0"/><circle cx="329.3" cy="172.9" r="3.0"/><circle cx="329.5" cy="172.7" r="3.0"/><circle cx="329.6" cy="172.5" r="3.0"/><circle cx="330.1" cy="172.9" r="3.0"/><circle cx="330.2" cy="172.9" r="3.0"/><circle cx="330.1" cy="172.3" r="3.0"/><circle cx="330.0" cy="171.8" r="3.0"/><circle cx="330.5" cy="172.2" r="3.0"/><circle cx="330.4" cy="171.7" r="3.0"/><circle cx="330.6" cy="171.7" r="3.0"/><circle cx="331.2" cy="172.3" r="3.0"/><circle cx="331.2" cy="172.1" r="3.0"/><circle cx="330.8" cy="171.0" r="3.0"/><circle cx="331.3" cy="171.4" r="3.0"/><circle cx="331.4" cy="171.1" r="3.0"/><circle cx="332.1" cy="171.8" r="3.0"/><circle cx="332.4" cy="171.9" r="3.0"/><circle cx="331.9" cy="170.6" r="3.0"/><circle cx="332.7" cy="171.5" r="3.0"/><circle cx="332.2" cy="170.3" r="3.0"/><circle cx="332.6" cy="170.5" r="3.0"/><circle cx="333.0" cy="170.9" r="3.0"/><circle cx="332.7" cy="170.1" r="3.0"/><circle cx="333.3" cy="170.6" r="3.0"/><circle cx="333.6" cy="170.6" r="3.0"/><circle cx="333.5" cy="170.2" r="3.0"/><circle cx="333.1" cy="169.2" r="3.0"/><circle cx="334.0" cy="170.2" r="3.0"/><circle cx="333.8" cy="169.5" r="3.0"/><circle cx="334.9" cy="170.7" r="3.0"/><circle cx="334.9" cy="170.4" r="3.0"/><circle cx="334.2" cy="168.9" r="3.0"/><circle cx="334.5" cy="168.8" r="3.0"/><circle cx="335.0" cy="169.1" r="3.0"/><circle cx="334.5" cy="168.0" r="3.0"/><circle cx="335.1" cy="168.4" r="3.0"/><circle cx="335.5" cy="168.6" r="3.0"/><circle cx="335.4" cy="168.1" r="3.0"/><circle cx="336.3" cy="168.9" r="3.0"/><circle cx="335.9" cy="168.2" r="3.0"/><circle cx="335.8" cy="167.6" r="3.0"/><circle cx="336.3" cy="167.8" r="3.0"/><circle cx="336.4" cy="167.6" r="3.0"/><circle cx="336.5" cy="167.4" r="3.0"/><circle cx="336.7" cy="167.4" r="3.0"/><circle cx="337.6" cy="168.3" r="3.0"/><circle cx="337.2" cy="167.4" r="3.0"/><circle cx="337.0" cy="166.7" r="3.0"/><circle cx="338.4" cy="168.2" r="3.0"/><circle cx="338.4" cy="167.9" r="3.0"/><circle cx="338.4" cy="167.6" r="3.0"/><circle cx="339.0" cy="168.1" r="3.0"/><circle cx="339.1" cy="167.9" r="3.0"/><circle cx="339.2" cy="167.6" r="3.0"/><circle cx="338.2" cy="165.9" r="3.0"/><circle cx="338.1" cy="165.6" r="3.0"/><circle cx="339.3" cy="166.7" r="3.0"/><circle cx="338.5" cy="165.5" r="3.0"/><circle cx="339.2" cy="166.2" r="3.0"/><circle cx="339.6" cy="166.3" r="3.0"/><circle cx="340.1" cy="166.7" r="3.0"/><circle cx="338.9" cy="164.9" r="3.0"/><circle cx="339.6" cy="165.5" r="3.0"/><circle cx="340.6" cy="166.4" r="3.0"/><circle cx="339.5" cy="164.6" r="3.0"/><circle cx="339.7" cy="164.5" r="3.0"/><circle cx="340.5" cy="165.2" r="3.0"/><circle cx="341.4" cy="166.0" r="3.0"/><circle cx="341.1" cy="165.5" r="3.0"/><circle cx="340.9" cy="164.8" r="3.0"/><circle cx="340.9" cy="164.6" r="3.0"/><circle cx="341.2" cy="164.6" r="3.0"/><circle cx="341.5" cy="164.6" r="3.0"/><circle cx="341.8" cy="164.6" r="3.0"/><circle cx="342.2" cy="164.8" r="3.0"/><circle cx="342.6" cy="165.1" r="3.0"/><circle cx="342.5" cy="164.5" r="3.0"/><circle cx="342.6" cy="164.4" r="3.0"/><circle cx="342.8" cy="164.3" r="3.0"/><circle cx="343.0" cy="164.3" r="3.0"/><circle cx="342.6" cy="163.5" r="3.0"/><circle cx="343.1" cy="163.9" r="3.0"/><circle cx="343.0" cy="163.4" r="3.0"/><circle cx="343.2" cy="163.2" r="3.0"/><circle cx="342.8" cy="162.5" r="3.0"/><circle cx="344.0" cy="163.6" r="3.0"/><circle cx="344.0" cy="163.3" r="3.0"/><circle cx="343.7" cy="162.6" r="3.0"/><circle cx="344.1" cy="162.8" r="3.0"/><circle cx="344.5" cy="163.0" r="3.0"/><circle cx="344.3" cy="162.4" r="3.0"/><circle cx="343.3" cy="160.9" r="3.0"/><circle cx="344.4" cy="161.9" r="3.0"/><circle cx="345.0" cy="162.2" r="3.0"/><circle cx="345.0" cy="161.9" r="3.0"/><circle cx="345.3" cy="162.1" r="3.0"/><circle cx="345.5" cy="162.0" r="3.0"/><circle cx="346.3" cy="162.8" r="3.0"/><circle cx="345.6" cy="161.5" r="3.0"/><circle cx="345.9" cy="161.5" r="3.0"/><circle cx="345.9" cy="161.1" r="3.0"/><circle cx="346.7" cy="161.8" r="3.0"/><circle cx="346.9" cy="161.6" r="3.0"/><circle cx="346.3" cy="160.6" r="3.0"/><circle cx="347.0" cy="161.0" r="3.0"/><circle cx="346.4" cy="160.0" r="3.0"/><circle cx="347.1" cy="160.5" r="3.0"/><circle cx="347.2" cy="160.2" r="3.0"/><circle cx="347.0" cy="159.9" r="3.0"/><circle cx="346.9" cy="159.5" r="3.0"/><circle cx="347.6" cy="160.0" r="3.0"/><circle cx="347.8" cy="159.9" r="3.0"/><circle cx="347.9" cy="159.8" r="3.0"/><circle cx="348.1" cy="159.5" r="3.0"/><circle cx="348.2" cy="159.4" r="3.0"/><circle cx="348.0" cy="159.0" r="3.0"/><circle cx="348.2" cy="158.9" r="3.0"/><circle cx="348.6" cy="159.0" r="3.0"/><circle cx="348.4" cy="158.4" r="3.0"/><circle cx="348.7" cy="158.4" r="3.0"/><circle cx="349.1" cy="158.6" r="3.0"/><circle cx="349.3" cy="158.5" r="3.0"/><circle cx="349.1" cy="158.2" r="3.0"/><circle cx="349.1" cy="157.9" r="3.0"/><circle cx="349.2" cy="157.7" r="3.0"/><circle cx="349.8" cy="158.1" r="3.0"/><circle cx="349.6" cy="157.6" r="3.0"/><circle cx="349.5" cy="157.2" r="3.0"/><circle cx="350.1" cy="157.6" r="3.0"/><circle cx="350.2" cy="157.3" r="3.0"/><circle cx="350.0" cy="156.8" r="3.0"/><circle cx="350.3" cy="156.8" r="3.0"/><circle cx="350.5" cy="156.8" r="3.0"/><circle cx="350.6" cy="156.8" r="3.0"/><circle cx="350.7" cy="156.5" r="3.0"/><circle cx="351.0" cy="156.4" r="3.0"/><circle cx="350.8" cy="156.0" r="3.0"/><circle cx="351.0" cy="155.9" r="3.0"/><circle cx="351.4" cy="156.1" r="3.0"/><circle cx="351.5" cy="155.8" r="3.0"/><circle cx="351.5" cy="155.6" r="3.0"/><circle cx="351.8" cy="155.6" r="3.0"/><circle cx="351.8" cy="155.3" r="3.0"/><circle cx="352.0" cy="155.3" r="3.0"/><circle cx="351.9" cy="155.0" r="3.0"/><circle cx="352.5" cy="155.2" r="3.0"/><circle cx="352.1" cy="154.6" r="3.0"/><circle cx="352.5" cy="154.6" r="3.0"/><circle cx="352.7" cy="154.5" r="3.0"/><circle cx="351.9" cy="153.5" r="3.0"/><circle cx="352.9" cy="154.2" r="3.0"/><circle cx="352.8" cy="153.8" r="3.0"/><circle cx="352.6" cy="153.3" r="3.0"/><circle cx="353.5" cy="153.9" r="3.0"/><circle cx="354.0" cy="154.2" r="3.0"/><circle cx="353.7" cy="153.6" r="3.0"/><circle cx="353.2" cy="152.8" r="3.0"/><circle cx="353.8" cy="153.3" r="3.0"/><circle cx="352.5" cy="151.6" r="3.0"/><circle cx="354.2" cy="153.1" r="3.0"/><circle cx="354.1" cy="152.7" r="3.0"/><circle cx="354.5" cy="152.8" r="3.0"/><circle cx="354.7" cy="152.6" r="3.0"/><circle cx="355.8" cy="153.4" r="3.0"/><circle cx="356.0" cy="153.4" r="3.0"/><circle cx="355.5" cy="152.6" r="3.0"/><circle cx="356.3" cy="153.1" r="3.0"/><circle cx="355.6" cy="152.1" r="3.0"/><circle cx="356.7" cy="152.9" r="3.0"/><circle cx="356.4" cy="152.3" r="3.0"/><circle cx="355.4" cy="150.8" r="3.0"/><circle cx="355.6" cy="150.9" r="3.0"/><circle cx="355.2" cy="150.2" r="3.0"/><circle cx="357.3" cy="152.0" r="3.0"/><circle cx="356.3" cy="150.6" r="3.0"/><circle cx="356.9" cy="151.0" r="3.0"/><circle cx="356.8" cy="150.7" r="3.0"/><circle cx="357.0" cy="150.6" r="3.0"/><circle cx="357.0" cy="150.4" r="3.0"/><circle cx="357.5" cy="150.6" r="3.0"/><circle cx="357.8" cy="150.8" r="3.0"/><circle cx="357.8" cy="150.4" r="3.0"/><circle cx="358.0" cy="150.3" r="3.0"/><circle cx="357.4" cy="149.4" r="3.0"/><circle cx="357.7" cy="149.4" r="3.0"/><circle cx="357.6" cy="149.0" r="3.0"/><circle cx="358.3" cy="149.5" r="3.0"/><circle cx="358.6" cy="149.4" r="3.0"/><circle cx="358.2" cy="148.8" r="3.0"/><circle cx="358.6" cy="149.0" r="3.0"/><circle cx="358.8" cy="148.8" r="3.0"/><circle cx="359.1" cy="148.9" r="3.0"/><circle cx="358.5" cy="148.0" r="3.0"/><circle cx="358.9" cy="148.1" r="3.0"/><circle cx="359.4" cy="148.3" r="3.0"/><circle cx="359.3" cy="148.0" r="3.0"/><circle cx="358.9" cy="147.3" r="3.0"/><circle cx="359.0" cy="147.1" r="3.0"/><circle cx="360.0" cy="147.9" r="3.0"/><circle cx="360.7" cy="148.5" r="3.0"/><circle cx="360.0" cy="147.6" r="3.0"/><circle cx="360.6" cy="147.9" r="3.0"/><circle cx="362.1" cy="149.1" r="3.0"/><circle cx="360.6" cy="147.3" r="3.0"/><circle cx="360.5" cy="146.8" r="3.0"/><circle cx="361.6" cy="147.7" r="3.0"/><circle cx="361.2" cy="147.1" r="3.0"/><circle cx="361.7" cy="147.4" r="3.0"/><circle cx="361.3" cy="146.7" r="3.0"/><circle cx="361.9" cy="147.0" r="3.0"/><circle cx="361.7" cy="146.6" r="3.0"/><circle cx="362.0" cy="146.6" r="3.0"/><circle cx="362.1" cy="146.4" r="3.0"/><circle cx="362.1" cy="146.2" r="3.0"/><circle cx="362.1" cy="145.9" r="3.0"/><circle cx="362.0" cy="145.5" r="3.0"/><circle cx="362.3" cy="145.5" r="3.0"/><circle cx="362.6" cy="145.5" r="3.0"/><circle cx="363.2" cy="145.7" r="3.0"/><circle cx="362.7" cy="145.0" r="3.0"/><circle cx="362.2" cy="144.2" r="3.0"/><circle cx="363.2" cy="144.8" r="3.0"/><circle cx="363.1" cy="144.4" r="3.0"/><circle cx="364.0" cy="145.0" r="3.0"/><circle cx="364.1" cy="144.8" r="3.0"/><circle cx="364.2" cy="144.6" r="3.0"/><circle cx="363.8" cy="144.0" r="3.0"/><circle cx="363.4" cy="143.3" r="3.0"/><circle cx="363.5" cy="143.2" r="3.0"/><circle cx="364.9" cy="144.2" r="3.0"/><circle cx="364.9" cy="144.0" r="3.0"/><circle cx="365.0" cy="143.9" r="3.0"/><circle cx="364.6" cy="143.2" r="3.0"/><circle cx="364.7" cy="143.0" r="3.0"/><circle cx="365.2" cy="143.1" r="3.0"/><circle cx="364.9" cy="142.5" r="3.0"/><circle cx="364.8" cy="142.2" r="3.0"/><circle cx="365.9" cy="142.9" r="3.0"/><circle cx="364.1" cy="141.0" r="3.0"/><circle cx="365.0" cy="141.5" r="3.0"/><circle cx="365.2" cy="141.4" r="3.0"/><circle cx="365.9" cy="141.8" r="3.0"/><circle cx="365.5" cy="141.1" r="3.0"/><circle cx="366.4" cy="141.7" r="3.0"/><circle cx="366.3" cy="141.4" r="3.0"/><circle cx="366.1" cy="140.9" r="3.0"/><circle cx="366.5" cy="141.1" r="3.0"/><circle cx="367.0" cy="141.3" r="3.0"/><circle cx="367.2" cy="141.2" r="3.0"/><circle cx="367.4" cy="141.0" r="3.0"/><circle cx="367.3" cy="140.7" r="3.0"/><circle cx="367.4" cy="140.6" r="3.0"/><circle cx="367.1" cy="140.0" r="3.0"/><circle cx="367.6" cy="140.3" r="3.0"/><circle cx="368.5" cy="140.7" r="3.0"/><circle cx="368.7" cy="140.6" r="3.0"/><circle cx="368.7" cy="140.3" r="3.0"/><circle cx="368.3" cy="139.6" r="3.0"/><circle cx="368.4" cy="139.4" r="3.0"/><circle cx="368.7" cy="139.4" r="3.0"/><circle cx="369.3" cy="139.6" r="3.0"/><circle cx="369.0" cy="138.9" r="3.0"/><circle cx="369.0" cy="138.6" r="3.0"/><circle cx="369.2" cy="138.5" r="3.0"/><circle cx="369.5" cy="138.4" r="3.0"/><circle cx="369.7" cy="138.3" r="3.0"/><circle cx="369.4" cy="137.8" r="3.0"/><circle cx="369.3" cy="137.5" r="3.0"/><circle cx="370.0" cy="138.0" r="3.0"/><circle cx="369.5" cy="137.3" r="3.0"/><circle cx="369.9" cy="137.3" r="3.0"/><circle cx="370.1" cy="137.2" r="3.0"/><circle cx="370.1" cy="137.1" r="3.0"/><circle cx="371.0" cy="137.6" r="3.0"/><circle cx="370.7" cy="137.2" r="3.0"/><circle cx="371.2" cy="137.3" r="3.0"/><circle cx="371.0" cy="136.8" r="3.0"/><circle cx="371.0" cy="136.5" r="3.0"/><circle cx="371.1" cy="136.3" r="3.0"/><circle cx="371.5" cy="136.4" r="3.0"/><circle cx="371.7" cy="136.4" r="3.0"/><circle cx="371.2" cy="135.6" r="3.0"/><circle cx="371.2" cy="135.2" r="3.0"/><circle cx="372.3" cy="136.0" r="3.0"/><circle cx="371.9" cy="135.3" r="3.0"/><circle cx="372.5" cy="135.6" r="3.0"/><circle cx="372.3" cy="135.0" r="3.0"/><circle cx="372.6" cy="135.0" r="3.0"/><circle cx="372.8" cy="134.8" r="3.0"/><circle cx="372.6" cy="134.5" r="3.0"/><circle cx="373.1" cy="134.6" r="3.0"/><circle cx="373.3" cy="134.7" r="3.0"/><circle cx="373.0" cy="134.2" r="3.0"/><circle cx="373.6" cy="134.4" r="3.0"/><circle cx="373.4" cy="134.0" r="3.0"/><circle cx="373.4" cy="133.7" r="3.0"/><circle cx="373.4" cy="133.4" r="3.0"/><circle cx="373.9" cy="133.6" r="3.0"/><circle cx="374.0" cy="133.3" r="3.0"/><circle cx="374.2" cy="133.3" r="3.0"/><circle cx="374.5" cy="133.3" r="3.0"/><circle cx="374.5" cy="133.0" r="3.0"/><circle cx="374.1" cy="132.3" r="3.0"/><circle cx="374.4" cy="132.4" r="3.0"/><circle cx="374.5" cy="132.3" r="3.0"/><circle cx="375.0" cy="132.4" r="3.0"/><circle cx="375.2" cy="132.4" r="3.0"/><circle cx="374.8" cy="131.8" r="3.0"/><circle cx="375.3" cy="132.0" r="3.0"/><circle cx="375.5" cy="131.8" r="3.0"/><circle cx="375.0" cy="131.1" r="3.0"/><circle cx="375.7" cy="131.5" r="3.0"/><circle cx="376.2" cy="131.7" r="3.0"/><circle cx="376.0" cy="131.2" r="3.0"/><circle cx="376.2" cy="131.1" r="3.0"/><circle cx="376.3" cy="130.9" r="3.0"/><circle cx="375.6" cy="130.1" r="3.0"/><circle cx="376.8" cy="131.0" r="3.0"/><circle cx="377.4" cy="131.4" r="3.0"/><circle cx="376.0" cy="129.7" r="3.0"/><circle cx="377.3" cy="130.8" r="3.0"/><circle cx="378.0" cy="131.1" r="3.0"/><circle cx="376.4" cy="129.3" r="3.0"/><circle cx="374.9" cy="127.4" r="3.0"/><circle cx="376.2" cy="128.6" r="3.0"/><circle cx="376.9" cy="129.0" r="3.0"/><circle cx="377.3" cy="129.2" r="3.0"/><circle cx="376.5" cy="128.0" r="3.0"/><circle cx="377.8" cy="129.0" r="3.0"/><circle cx="378.3" cy="129.2" r="3.0"/><circle cx="376.9" cy="127.4" r="3.0"/><circle cx="377.0" cy="127.2" r="3.0"/><circle cx="379.3" cy="129.3" r="3.0"/><circle cx="377.6" cy="127.3" r="3.0"/><circle cx="380.2" cy="129.8" r="3.0"/><circle cx="380.6" cy="129.8" r="3.0"/><circle cx="380.2" cy="129.1" r="3.0"/><circle cx="379.7" cy="128.2" r="3.0"/><circle cx="379.3" cy="127.6" r="3.0"/><circle cx="380.5" cy="128.6" r="3.0"/><circle cx="380.4" cy="128.1" r="3.0"/><circle cx="380.6" cy="127.9" r="3.0"/><circle cx="381.8" cy="128.9" r="3.0"/><circle cx="378.6" cy="125.3" r="3.0"/><circle cx="381.3" cy="127.8" r="3.0"/><circle cx="380.9" cy="127.1" r="3.0"/><circle cx="380.3" cy="126.0" r="3.0"/><circle cx="381.5" cy="127.2" r="3.0"/><circle cx="379.8" cy="125.0" r="3.0"/><circle cx="382.0" cy="127.2" r="3.0"/><circle cx="380.3" cy="124.9" r="3.0"/><circle cx="381.8" cy="126.2" r="3.0"/><circle cx="380.9" cy="124.9" r="3.0"/><circle cx="381.6" cy="125.4" r="3.0"/><circle cx="381.7" cy="125.1" r="3.0"/><circle cx="383.0" cy="126.5" r="3.0"/><circle cx="383.6" cy="126.9" r="3.0"/><circle cx="382.0" cy="124.6" r="3.0"/><circle cx="384.0" cy="126.7" r="3.0"/><circle cx="383.7" cy="125.9" r="3.0"/><circle cx="381.7" cy="123.3" r="3.0"/><circle cx="381.9" cy="123.1" r="3.0"/><circle cx="383.8" cy="125.0" r="3.0"/><circle cx="382.7" cy="123.4" r="3.0"/><circle cx="383.4" cy="123.7" r="3.0"/><circle cx="382.3" cy="122.1" r="3.0"/><circle cx="385.0" cy="125.3" r="3.0"/><circle cx="383.3" cy="122.6" r="3.0"/><circle cx="383.1" cy="121.7" r="3.0"/><circle cx="385.1" cy="124.3" r="3.0"/><circle cx="384.7" cy="123.2" r="3.0"/><circle cx="386.3" cy="125.3" r="3.0"/><circle cx="384.3" cy="121.7" r="3.0"/><circle cx="385.5" cy="123.4" r="3.0"/><circle cx="384.0" cy="120.6" r="3.0"/><circle cx="383.9" cy="120.1" r="3.0"/><circle cx="384.2" cy="120.2" r="3.0"/><circle cx="387.8" cy="125.3" r="3.0"/><circle cx="387.1" cy="124.0" r="3.0"/><circle cx="386.3" cy="122.4" r="3.0"/><circle cx="386.3" cy="121.9" r="3.0"/><circle cx="388.4" cy="124.9" r="3.0"/><circle cx="387.1" cy="122.6" r="3.0"/><circle cx="386.8" cy="121.5" r="3.0"/><circle cx="386.1" cy="119.9" r="3.0"/><circle cx="386.3" cy="119.5" r="3.0"/><circle cx="387.5" cy="121.5" r="3.0"/><circle cx="388.3" cy="122.9" r="3.0"/><circle cx="388.1" cy="121.8" r="3.0"/><circle cx="388.5" cy="122.2" r="3.0"/><circle cx="389.3" cy="124.4" r="3.0"/><circle cx="388.3" cy="120.3" r="3.0"/><circle cx="388.9" cy="121.7" r="3.0"/><circle cx="389.5" cy="123.2" r="3.0"/><circle cx="388.6" cy="119.4" r="3.0"/><circle cx="389.0" cy="120.3" r="3.0"/><circle cx="389.9" cy="122.6" r="3.0"/><circle cx="389.9" cy="122.3" r="3.0"/><circle cx="390.2" cy="122.5" r="3.0"/><circle cx="390.4" cy="122.8" r="3.0"/><circle cx="389.2" cy="117.8" r="3.0"/><circle cx="390.6" cy="122.5" r="3.0"/><circle cx="390.0" cy="118.3" r="3.0"/><circle cx="390.8" cy="122.6" r="3.0"/><circle cx="391.0" cy="123.6" r="3.0"/><circle cx="391.0" cy="122.9" r="3.0"/><circle cx="391.1" cy="119.4" r="3.0"/><circle cx="391.2" cy="122.0" r="3.0"/><circle cx="391.3" cy="121.5" r="3.0"/><circle cx="392.0" cy="118.4" r="3.0"/><circle cx="391.8" cy="120.7" r="3.0"/><circle cx="391.3" cy="123.3" r="3.0"/><circle cx="391.8" cy="122.0" r="3.0"/><circle cx="392.9" cy="118.5" r="3.0"/><circle cx="393.2" cy="118.2" r="3.0"/><circle cx="392.8" cy="120.5" r="3.0"/><circle cx="392.8" cy="121.3" r="3.0"/><circle cx="392.2" cy="123.8" r="3.0"/><circle cx="393.2" cy="121.5" r="3.0"/><circle cx="394.4" cy="119.4" r="3.0"/><circle cx="395.0" cy="118.8" r="3.0"/><circle cx="393.2" cy="122.4" r="3.0"/><circle cx="393.7" cy="122.0" r="3.0"/><circle cx="392.9" cy="123.3" r="3.0"/><circle cx="395.2" cy="120.7" r="3.0"/><circle cx="395.6" cy="120.4" r="3.0"/><circle cx="395.8" cy="120.6" r="3.0"/><circle cx="395.7" cy="121.0" r="3.0"/><circle cx="395.3" cy="121.7" r="3.0"/><circle cx="393.8" cy="123.4" r="3.0"/><circle cx="394.8" cy="122.6" r="3.0"/><circle cx="396.2" cy="121.6" r="3.0"/><circle cx="396.3" cy="121.7" r="3.0"/><circle cx="395.4" cy="122.9" r="3.0"/><circle cx="396.4" cy="122.2" r="3.0"/><circle cx="396.4" cy="122.6" r="3.0"/><circle cx="395.0" cy="124.2" r="3.0"/><circle cx="396.9" cy="122.8" r="3.0"/><circle cx="393.4" cy="126.1" r="3.0"/><circle cx="395.9" cy="124.2" r="3.0"/><circle cx="396.7" cy="123.7" r="3.0"/><circle cx="398.0" cy="123.0" r="3.0"/><circle cx="396.3" cy="124.7" r="3.0"/><circle cx="398.1" cy="123.5" r="3.0"/><circle cx="396.6" cy="124.9" r="3.0"/><circle cx="398.5" cy="123.8" r="3.0"/><circle cx="398.3" cy="124.2" r="3.0"/><circle cx="398.2" cy="124.5" r="3.0"/><circle cx="398.8" cy="124.3" r="3.0"/><circle cx="398.2" cy="125.0" r="3.0"/><circle cx="399.3" cy="124.4" r="3.0"/><circle cx="399.6" cy="124.5" r="3.0"/><circle cx="398.5" cy="125.5" r="3.0"/><circle cx="399.7" cy="125.0" r="3.0"/><circle cx="398.3" cy="126.2" r="3.0"/><circle cx="398.3" cy="126.5" r="3.0"/><circle cx="399.5" cy="125.9" r="3.0"/><circle cx="398.5" cy="126.8" r="3.0"/><circle cx="398.1" cy="127.4" r="3.0"/><circle cx="399.3" cy="126.8" r="3.0"/><circle cx="398.6" cy="127.5" r="3.0"/><circle cx="398.6" cy="127.7" r="3.0"/><circle cx="398.4" cy="128.1" r="3.0"/><circle cx="400.0" cy="127.2" r="3.0"/><circle cx="399.2" cy="127.9" r="3.0"/><circle cx="399.6" cy="127.9" r="3.0"/><circle cx="399.2" cy="128.4" r="3.0"/><circle cx="399.0" cy="128.7" r="3.0"/><circle cx="399.1" cy="128.9" r="3.0"/><circle cx="400.1" cy="128.5" r="3.0"/><circle cx="400.6" cy="128.4" r="3.0"/><circle cx="401.2" cy="128.3" r="3.0"/><circle cx="400.1" cy="129.2" r="3.0"/><circle cx="400.2" cy="129.4" r="3.0"/><circle cx="400.9" cy="129.2" r="3.0"/><circle cx="403.3" cy="127.9" r="3.0"/><circle cx="400.3" cy="130.1" r="3.0"/><circle cx="401.5" cy="129.6" r="3.0"/><circle cx="401.7" cy="129.8" r="3.0"/><circle cx="400.9" cy="130.5" r="3.0"/><circle cx="400.5" cy="130.9" r="3.0"/><circle cx="402.3" cy="130.1" r="3.0"/><circle cx="400.9" cy="131.3" r="3.0"/><circle cx="402.4" cy="130.6" r="3.0"/><circle cx="401.7" cy="131.4" r="3.0"/><circle cx="402.4" cy="131.2" r="3.0"/><circle cx="402.0" cy="131.7" r="3.0"/><circle cx="402.6" cy="131.4" r="3.0"/><circle cx="402.9" cy="131.4" r="3.0"/><circle cx="402.2" cy="132.1" r="3.0"/><circle cx="401.6" cy="132.8" r="3.0"/><circle cx="403.2" cy="132.0" r="3.0"/><circle cx="402.4" cy="132.8" r="3.0"/><circle cx="403.3" cy="132.4" r="3.0"/><circle cx="402.1" cy="133.4" r="3.0"/><circle cx="403.3" cy="132.8" r="3.0"/><circle cx="402.6" cy="133.7" r="3.0"/><circle cx="403.1" cy="133.6" r="3.0"/><circle cx="403.7" cy="133.5" r="3.0"/><circle cx="403.4" cy="133.9" r="3.0"/><circle cx="403.7" cy="134.0" r="3.0"/><circle cx="403.5" cy="134.5" r="3.0"/><circle cx="403.9" cy="134.4" r="3.0"/><circle cx="403.9" cy="134.7" r="3.0"/><circle cx="404.2" cy="134.7" r="3.0"/><circle cx="404.5" cy="134.7" r="3.0"/><circle cx="404.4" cy="135.0" r="3.0"/><circle cx="404.3" cy="135.3" r="3.0"/><circle cx="404.9" cy="135.2" r="3.0"/><circle cx="404.8" cy="135.6" r="3.0"/><circle cx="405.4" cy="135.4" r="3.0"/><circle cx="405.0" cy="135.9" r="3.0"/><circle cx="404.5" cy="136.4" r="3.0"/><circle cx="405.6" cy="135.9" r="3.0"/><circle cx="404.7" cy="136.7" r="3.0"/><circle cx="406.0" cy="136.0" r="3.0"/><circle cx="405.6" cy="136.6" r="3.0"/><circle cx="406.7" cy="136.1" r="3.0"/><circle cx="204.3" cy="279.5" r="3.0"/><circle cx="207.1" cy="280.8" r="3.0"/><circle cx="209.8" cy="280.4" r="3.0"/><circle cx="212.2" cy="280.2" r="3.0"/><circle cx="214.4" cy="280.3" r="3.0"/><circle cx="216.2" cy="280.3" r="3.0"/><circle cx="218.0" cy="281.9" r="3.0"/><circle cx="220.2" cy="281.1" r="3.0"/><circle cx="222.8" cy="281.3" r="3.0"/><circle cx="225.4" cy="282.1" r="3.0"/><circle cx="227.5" cy="281.7" r="3.0"/><circle cx="229.9" cy="281.3" r="3.0"/><circle cx="231.1" cy="282.4" r="3.0"/><circle cx="232.7" cy="283.1" r="3.0"/><circle cx="234.7" cy="281.8" r="3.0"/><circle cx="236.9" cy="282.9" r="3.0"/><circle cx="238.1" cy="282.8" r="3.0"/><circle cx="239.7" cy="282.8" r="3.0"/><circle cx="241.6" cy="283.9" r="3.0"/><circle cx="242.7" cy="283.8" r="3.0"/><circle cx="244.2" cy="282.4" r="3.0"/><circle cx="245.5" cy="282.7" r="3.0"/><circle cx="247.2" cy="283.3" r="3.0"/><circle cx="248.1" cy="283.8" r="3.0"/><circle cx="249.2" cy="284.3" r="3.0"/><circle cx="249.9" cy="284.6" r="3.0"/><circle cx="251.4" cy="283.3" r="3.0"/><circle cx="252.5" cy="283.2" r="3.0"/><circle cx="253.5" cy="283.0" r="3.0"/><circle cx="254.7" cy="283.2" r="3.0"/><circle cx="255.5" cy="284.3" r="3.0"/><circle cx="256.4" cy="283.2" r="3.0"/><circle cx="257.5" cy="283.1" r="3.0"/><circle cx="258.0" cy="283.8" r="3.0"/><circle cx="258.7" cy="284.3" r="3.0"/><circle cx="259.4" cy="284.9" r="3.0"/><circle cx="259.8" cy="287.0" r="3.0"/><circle cx="260.8" cy="284.8" r="3.0"/><circle cx="261.2" cy="285.5" r="3.0"/><circle cx="261.9" cy="286.1" r="3.0"/><circle cx="262.8" cy="285.0" r="3.0"/><circle cx="263.5" cy="285.7" r="3.0"/><circle cx="263.9" cy="285.8" r="3.0"/><circle cx="264.4" cy="285.2" r="3.0"/><circle cx="264.9" cy="285.9" r="3.0"/><circle cx="265.3" cy="286.0" r="3.0"/><circle cx="266.1" cy="285.4" r="3.0"/><circle cx="266.6" cy="285.6" r="3.0"/><circle cx="267.0" cy="286.1" r="3.0"/><circle cx="267.3" cy="285.9" r="3.0"/><circle cx="267.8" cy="286.2" r="3.0"/><circle cx="268.1" cy="286.2" r="3.0"/><circle cx="268.4" cy="286.9" r="3.0"/><circle cx="268.9" cy="286.2" r="3.0"/><circle cx="269.2" cy="286.6" r="3.0"/><circle cx="269.8" cy="286.5" r="3.0"/><circle cx="270.3" cy="285.6" r="3.0"/><circle cx="270.5" cy="287.2" r="3.0"/><circle cx="270.8" cy="287.3" r="3.0"/><circle cx="271.3" cy="286.5" r="3.0"/><circle cx="271.5" cy="286.8" r="3.0"/><circle cx="272.3" cy="285.4" r="3.0"/><circle cx="272.7" cy="285.7" r="3.0"/><circle cx="273.1" cy="285.9" r="3.0"/><circle cx="273.7" cy="285.7" r="3.0"/><circle cx="273.8" cy="287.5" r="3.0"/><circle cx="274.1" cy="287.7" r="3.0"/><circle cx="274.8" cy="286.2" r="3.0"/><circle cx="275.0" cy="287.5" r="3.0"/><circle cx="275.3" cy="287.1" r="3.0"/><circle cx="275.8" cy="285.8" r="3.0"/><circle cx="276.3" cy="285.7" r="3.0"/><circle cx="276.3" cy="287.8" r="3.0"/><circle cx="276.8" cy="287.4" r="3.0"/><circle cx="277.3" cy="286.9" r="3.0"/><circle cx="277.7" cy="285.7" r="3.0"/><circle cx="277.9" cy="286.4" r="3.0"/><circle cx="278.3" cy="285.9" r="3.0"/><circle cx="278.7" cy="285.8" r="3.0"/><circle cx="278.9" cy="286.4" r="3.0"/><circle cx="279.3" cy="287.0" r="3.0"/><circle cx="279.5" cy="286.3" r="3.0"/><circle cx="279.9" cy="286.5" r="3.0"/><circle cx="280.0" cy="287.7" r="3.0"/><circle cx="280.7" cy="285.1" r="3.0"/><circle cx="280.7" cy="287.0" r="3.0"/><circle cx="280.8" cy="288.4" r="3.0"/><circle cx="281.2" cy="287.9" r="3.0"/><circle cx="281.4" cy="287.8" r="3.0"/><circle cx="281.7" cy="287.9" r="3.0"/><circle cx="282.0" cy="287.9" r="3.0"/><circle cx="282.2" cy="287.7" r="3.0"/><circle cx="282.5" cy="287.8" r="3.0"/><circle cx="282.6" cy="289.3" r="3.0"/><circle cx="283.2" cy="287.5" r="3.0"/><circle cx="283.3" cy="289.2" r="3.0"/><circle cx="283.8" cy="287.5" r="3.0"/><circle cx="284.0" cy="288.3" r="3.0"/><circle cx="284.3" cy="287.3" r="3.0"/><circle cx="284.6" cy="287.3" r="3.0"/><circle cx="284.8" cy="287.1" r="3.0"/><circle cx="284.9" cy="289.2" r="3.0"/><circle cx="285.4" cy="287.9" r="3.0"/><circle cx="285.6" cy="289.3" r="3.0"/><circle cx="285.9" cy="288.9" r="3.0"/><circle cx="286.3" cy="287.6" r="3.0"/><circle cx="286.4" cy="289.6" r="3.0"/><circle cx="286.7" cy="289.8" r="3.0"/><circle cx="287.3" cy="288.1" r="3.0"/><circle cx="287.2" cy="290.5" r="3.0"/><circle cx="287.4" cy="290.0" r="3.0"/><circle cx="287.6" cy="289.5" r="3.0"/><circle cx="287.8" cy="290.5" r="3.0"/><circle cx="288.2" cy="289.6" r="3.0"/><circle cx="288.5" cy="288.5" r="3.0"/><circle cx="288.7" cy="288.9" r="3.0"/><circle cx="288.9" cy="289.5" r="3.0"/><circle cx="289.1" cy="290.1" r="3.0"/><circle cx="289.2" cy="290.6" r="3.0"/><circle cx="289.6" cy="289.7" r="3.0"/><circle cx="289.9" cy="289.2" r="3.0"/><circle cx="290.0" cy="290.7" r="3.0"/><circle cx="290.5" cy="288.6" r="3.0"/><circle cx="290.5" cy="289.7" r="3.0"/><circle cx="290.7" cy="289.8" r="3.0"/><circle cx="291.2" cy="289.0" r="3.0"/><circle cx="291.4" cy="289.7" r="3.0"/><circle cx="291.6" cy="290.0" r="3.0"/><circle cx="292.0" cy="289.2" r="3.0"/><circle cx="292.3" cy="288.5" r="3.0"/><circle cx="292.2" cy="289.9" r="3.0"/><circle cx="292.2" cy="291.6" r="3.0"/><circle cx="292.8" cy="289.3" r="3.0"/><circle cx="292.9" cy="289.7" r="3.0"/><circle cx="292.9" cy="290.9" r="3.0"/><circle cx="293.4" cy="289.0" r="3.0"/><circle cx="293.3" cy="290.9" r="3.0"/><circle cx="293.5" cy="290.8" r="3.0"/><circle cx="293.9" cy="289.4" r="3.0"/><circle cx="294.3" cy="289.0" r="3.0"/><circle cx="294.5" cy="289.2" r="3.0"/><circle cx="294.7" cy="289.1" r="3.0"/><circle cx="294.9" cy="289.8" r="3.0"/><circle cx="295.1" cy="289.4" r="3.0"/><circle cx="295.2" cy="290.7" r="3.0"/><circle cx="295.6" cy="289.3" r="3.0"/><circle cx="296.0" cy="288.2" r="3.0"/><circle cx="295.7" cy="291.0" r="3.0"/><circle cx="295.8" cy="291.2" r="3.0"/><circle cx="296.2" cy="290.8" r="3.0"/><circle cx="296.2" cy="291.3" r="3.0"/><circle cx="296.9" cy="288.5" r="3.0"/><circle cx="296.9" cy="289.7" r="3.0"/><circle cx="296.7" cy="292.2" r="3.0"/><circle cx="297.0" cy="292.3" r="3.0"/><circle cx="297.8" cy="289.1" r="3.0"/><circle cx="297.5" cy="291.4" r="3.0"/><circle cx="297.8" cy="291.2" r="3.0"/><circle cx="298.2" cy="290.3" r="3.0"/><circle cx="298.6" cy="289.1" r="3.0"/><circle cx="298.5" cy="291.4" r="3.0"/><circle cx="298.7" cy="291.4" r="3.0"/><circle cx="298.8" cy="291.8" r="3.0"/><circle cx="299.1" cy="291.8" r="3.0"/><circle cx="299.2" cy="292.5" r="3.0"/><circle cx="299.8" cy="290.4" r="3.0"/><circle cx="299.9" cy="291.5" r="3.0"/><circle cx="300.1" cy="290.9" r="3.0"/><circle cx="300.5" cy="290.6" r="3.0"/><circle cx="301.2" cy="287.9" r="3.0"/><circle cx="300.5" cy="292.6" r="3.0"/><circle cx="301.1" cy="290.4" r="3.0"/><circle cx="301.5" cy="290.0" r="3.0"/><circle cx="302.1" cy="287.8" r="3.0"/><circle cx="301.9" cy="290.4" r="3.0"/><circle cx="302.1" cy="290.8" r="3.0"/><circle cx="301.9" cy="292.3" r="3.0"/><circle cx="301.6" cy="295.1" r="3.0"/><circle cx="302.2" cy="293.6" r="3.0"/><circle cx="302.8" cy="291.0" r="3.0"/><circle cx="302.9" cy="292.0" r="3.0"/><circle cx="302.9" cy="292.8" r="3.0"/><circle cx="303.1" cy="293.1" r="3.0"/><circle cx="303.1" cy="293.7" r="3.0"/><circle cx="303.9" cy="291.0" r="3.0"/><circle cx="303.6" cy="293.7" r="3.0"/><circle cx="304.4" cy="290.6" r="3.0"/><circle cx="304.4" cy="291.8" r="3.0"/><circle cx="304.8" cy="291.1" r="3.0"/><circle cx="305.0" cy="291.2" r="3.0"/><circle cx="304.7" cy="293.5" r="3.0"/><circle cx="305.4" cy="290.9" r="3.0"/><circle cx="305.3" cy="292.6" r="3.0"/><circle cx="305.6" cy="292.5" r="3.0"/><circle cx="305.6" cy="293.2" r="3.0"/><circle cx="305.8" cy="292.7" r="3.0"/><circle cx="306.2" cy="291.8" r="3.0"/><circle cx="306.1" cy="293.3" r="3.0"/><circle cx="306.5" cy="292.7" r="3.0"/><circle cx="306.8" cy="291.8" r="3.0"/><circle cx="307.2" cy="291.3" r="3.0"/><circle cx="306.6" cy="295.3" r="3.0"/><circle cx="307.1" cy="294.1" r="3.0"/><circle cx="307.6" cy="292.4" r="3.0"/><circle cx="308.0" cy="291.7" r="3.0"/><circle cx="307.9" cy="293.3" r="3.0"/><circle cx="308.4" cy="291.4" r="3.0"/><circle cx="308.0" cy="294.4" r="3.0"/><circle cx="308.7" cy="291.6" r="3.0"/><circle cx="308.3" cy="294.2" r="3.0"/><circle cx="308.7" cy="293.9" r="3.0"/><circle cx="309.4" cy="291.3" r="3.0"/><circle cx="309.1" cy="293.6" r="3.0"/><circle cx="309.8" cy="290.6" r="3.0"/><circle cx="309.7" cy="292.0" r="3.0"/><circle cx="309.8" cy="292.3" r="3.0"/><circle cx="310.2" cy="291.7" r="3.0"/><circle cx="310.2" cy="292.1" r="3.0"/><circle cx="310.1" cy="293.9" r="3.0"/><circle cx="310.5" cy="292.5" r="3.0"/><circle cx="310.8" cy="292.3" r="3.0"/><circle cx="310.6" cy="294.3" r="3.0"/><circle cx="310.8" cy="294.7" r="3.0"/><circle cx="311.1" cy="294.1" r="3.0"/><circle cx="311.7" cy="291.3" r="3.0"/><circle cx="311.4" cy="294.4" r="3.0"/><circle cx="311.6" cy="294.7" r="3.0"/><circle cx="312.0" cy="293.7" r="3.0"/><circle cx="312.6" cy="291.6" r="3.0"/><circle cx="312.2" cy="294.8" r="3.0"/><circle cx="313.0" cy="291.6" r="3.0"/><circle cx="313.0" cy="292.7" r="3.0"/><circle cx="312.9" cy="293.8" r="3.0"/><circle cx="313.4" cy="292.3" r="3.0"/><circle cx="313.3" cy="293.7" r="3.0"/><circle cx="313.8" cy="292.7" r="3.0"/><circle cx="313.6" cy="295.0" r="3.0"/><circle cx="314.3" cy="291.7" r="3.0"/><circle cx="314.2" cy="294.0" r="3.0"/><circle cx="314.0" cy="295.9" r="3.0"/><circle cx="314.5" cy="294.3" r="3.0"/><circle cx="315.0" cy="292.9" r="3.0"/><circle cx="315.2" cy="293.8" r="3.0"/><circle cx="315.1" cy="294.9" r="3.0"/><circle cx="315.6" cy="293.0" r="3.0"/><circle cx="315.8" cy="293.9" r="3.0"/><circle cx="315.9" cy="294.7" r="3.0"/><circle cx="316.1" cy="294.5" r="3.0"/><circle cx="316.7" cy="292.3" r="3.0"/><circle cx="316.4" cy="295.1" r="3.0"/><circle cx="317.1" cy="292.7" r="3.0"/><circle cx="317.4" cy="291.9" r="3.0"/><circle cx="317.3" cy="293.4" r="3.0"/><circle cx="317.8" cy="292.1" r="3.0"/><circle cx="317.8" cy="292.8" r="3.0"/><circle cx="317.9" cy="294.1" r="3.0"/><circle cx="318.4" cy="292.3" r="3.0"/><circle cx="318.3" cy="294.4" r="3.0"/><circle cx="318.4" cy="294.4" r="3.0"/><circle cx="318.8" cy="293.4" r="3.0"/><circle cx="318.8" cy="294.5" r="3.0"/><circle cx="318.9" cy="295.1" r="3.0"/><circle cx="319.4" cy="293.2" r="3.0"/><circle cx="319.1" cy="295.8" r="3.0"/><circle cx="319.2" cy="296.1" r="3.0"/><circle cx="319.5" cy="296.4" r="3.0"/><circle cx="319.8" cy="295.9" r="3.0"/><circle cx="319.7" cy="297.3" r="3.0"/><circle cx="320.6" cy="293.2" r="3.0"/><circle cx="320.6" cy="294.1" r="3.0"/><circle cx="320.6" cy="295.1" r="3.0"/><circle cx="320.4" cy="297.3" r="3.0"/><circle cx="321.3" cy="293.7" r="3.0"/><circle cx="321.8" cy="292.3" r="3.0"/><circle cx="321.9" cy="292.5" r="3.0"/><circle cx="321.9" cy="293.7" r="3.0"/><circle cx="322.0" cy="293.9" r="3.0"/><circle cx="322.6" cy="292.1" r="3.0"/><circle cx="321.6" cy="298.3" r="3.0"/><circle cx="321.9" cy="297.8" r="3.0"/><circle cx="322.4" cy="296.5" r="3.0"/><circle cx="323.0" cy="294.2" r="3.0"/><circle cx="323.5" cy="292.6" r="3.0"/><circle cx="323.3" cy="294.5" r="3.0"/><circle cx="323.1" cy="296.9" r="3.0"/><circle cx="323.9" cy="293.4" r="3.0"/><circle cx="323.7" cy="296.1" r="3.0"/><circle cx="323.5" cy="298.3" r="3.0"/><circle cx="324.8" cy="292.5" r="3.0"/><circle cx="324.7" cy="294.1" r="3.0"/><circle cx="324.7" cy="295.4" r="3.0"/><circle cx="325.2" cy="293.7" r="3.0"/><circle cx="325.2" cy="295.2" r="3.0"/><circle cx="325.1" cy="297.1" r="3.0"/><circle cx="325.4" cy="297.7" r="3.0"/><circle cx="325.7" cy="297.0" r="3.0"/><circle cx="326.3" cy="294.2" r="3.0"/><circle cx="326.0" cy="298.0" r="3.0"/><circle cx="327.0" cy="293.1" r="3.0"/><circle cx="326.8" cy="296.0" r="3.0"/><circle cx="327.2" cy="293.9" r="3.0"/><circle cx="327.0" cy="296.9" r="3.0"/><circle cx="327.2" cy="296.9" r="3.0"/><circle cx="327.8" cy="294.1" r="3.0"/><circle cx="327.9" cy="294.9" r="3.0"/><circle cx="328.2" cy="293.7" r="3.0"/><circle cx="328.4" cy="293.7" r="3.0"/><circle cx="328.5" cy="294.1" r="3.0"/><circle cx="328.7" cy="294.1" r="3.0"/><circle cx="328.6" cy="296.7" r="3.0"/><circle cx="328.9" cy="295.0" r="3.0"/><circle cx="329.2" cy="295.2" r="3.0"/><circle cx="329.4" cy="294.7" r="3.0"/><circle cx="329.2" cy="297.6" r="3.0"/><circle cx="329.5" cy="296.7" r="3.0"/><circle cx="329.7" cy="296.8" r="3.0"/><circle cx="330.2" cy="294.3" r="3.0"/><circle cx="330.2" cy="295.4" r="3.0"/><circle cx="330.6" cy="294.2" r="3.0"/><circle cx="330.3" cy="298.4" r="3.0"/><circle cx="331.2" cy="293.5" r="3.0"/><circle cx="330.9" cy="297.0" r="3.0"/><circle cx="331.3" cy="294.7" r="3.0"/><circle cx="331.5" cy="294.7" r="3.0"/><circle cx="331.4" cy="296.3" r="3.0"/><circle cx="331.8" cy="296.1" r="3.0"/><circle cx="331.7" cy="298.3" r="3.0"/><circle cx="332.1" cy="295.9" r="3.0"/><circle cx="332.7" cy="293.5" r="3.0"/><circle cx="332.2" cy="298.3" r="3.0"/><circle cx="332.6" cy="297.4" r="3.0"/><circle cx="333.1" cy="295.2" r="3.0"/><circle cx="333.5" cy="293.3" r="3.0"/><circle cx="333.5" cy="294.4" r="3.0"/><circle cx="333.5" cy="296.5" r="3.0"/><circle cx="333.4" cy="298.1" r="3.0"/><circle cx="334.0" cy="295.2" r="3.0"/><circle cx="334.1" cy="296.8" r="3.0"/><circle cx="334.7" cy="294.0" r="3.0"/><circle cx="334.3" cy="299.0" r="3.0"/><circle cx="335.1" cy="293.9" r="3.0"/><circle cx="334.8" cy="297.0" r="3.0"/><circle cx="334.8" cy="298.7" r="3.0"/><circle cx="335.3" cy="296.0" r="3.0"/><circle cx="335.6" cy="294.2" r="3.0"/><circle cx="335.6" cy="296.1" r="3.0"/><circle cx="335.7" cy="297.9" r="3.0"/><circle cx="335.8" cy="298.8" r="3.0"/><circle cx="336.2" cy="294.6" r="3.0"/><circle cx="336.4" cy="295.1" r="3.0"/><circle cx="336.3" cy="299.1" r="3.0"/><circle cx="336.7" cy="296.2" r="3.0"/><circle cx="336.7" cy="299.5" r="3.0"/><circle cx="337.0" cy="296.4" r="3.0"/><circle cx="337.1" cy="299.8" r="3.0"/><circle cx="337.4" cy="299.5" r="3.0"/><circle cx="337.7" cy="298.7" r="3.0"/><circle cx="337.9" cy="296.2" r="3.0"/><circle cx="338.0" cy="299.1" r="3.0"/><circle cx="338.4" cy="295.9" r="3.0"/><circle cx="338.5" cy="299.9" r="3.0"/><circle cx="338.6" cy="296.8" r="3.0"/><circle cx="339.0" cy="296.8" r="3.0"/><circle cx="339.1" cy="296.1" r="3.0"/><circle cx="339.3" cy="296.1" r="3.0"/><circle cx="339.5" cy="300.0" r="3.0"/><circle cx="339.7" cy="298.4" r="3.0"/><circle cx="340.0" cy="295.9" r="3.0"/><circle cx="340.1" cy="299.2" r="3.0"/><circle cx="340.3" cy="298.0" r="3.0"/><circle cx="340.6" cy="296.6" r="3.0"/><circle cx="340.8" cy="297.4" r="3.0"/><circle cx="341.0" cy="295.6" r="3.0"/><circle cx="341.1" cy="299.4" r="3.0"/><circle cx="341.2" cy="299.4" r="3.0"/><circle cx="341.5" cy="296.0" r="3.0"/><circle cx="341.6" cy="297.8" r="3.0"/><circle cx="341.8" cy="298.8" r="3.0"/><circle cx="341.9" cy="299.4" r="3.0"/><circle cx="342.2" cy="295.5" r="3.0"/><circle cx="342.2" cy="298.8" r="3.0"/><circle cx="342.4" cy="299.4" r="3.0"/><circle cx="342.7" cy="295.6" r="3.0"/><circle cx="342.9" cy="297.9" r="3.0"/><circle cx="343.1" cy="297.7" r="3.0"/><circle cx="343.2" cy="300.5" r="3.0"/><circle cx="343.4" cy="297.9" r="3.0"/><circle cx="343.7" cy="296.0" r="3.0"/><circle cx="343.8" cy="297.5" r="3.0"/><circle cx="344.0" cy="298.5" r="3.0"/><circle cx="344.3" cy="295.0" r="3.0"/><circle cx="344.5" cy="299.8" r="3.0"/><circle cx="344.8" cy="296.1" r="3.0"/><circle cx="345.0" cy="297.5" r="3.0"/><circle cx="345.2" cy="295.1" r="3.0"/><circle cx="345.3" cy="299.5" r="3.0"/><circle cx="345.5" cy="295.5" r="3.0"/><circle cx="345.7" cy="296.2" r="3.0"/><circle cx="345.9" cy="298.7" r="3.0"/><circle cx="346.0" cy="301.1" r="3.0"/><circle cx="346.4" cy="292.9" r="3.0"/><circle cx="346.5" cy="297.4" r="3.0"/><circle cx="346.7" cy="295.0" r="3.0"/><circle cx="346.8" cy="295.4" r="3.0"/><circle cx="347.0" cy="297.5" r="3.0"/><circle cx="347.1" cy="299.0" r="3.0"/><circle cx="347.3" cy="298.8" r="3.0"/><circle cx="347.6" cy="295.7" r="3.0"/><circle cx="347.7" cy="297.5" r="3.0"/><circle cx="347.9" cy="297.7" r="3.0"/><circle cx="348.1" cy="297.8" r="3.0"/><circle cx="348.2" cy="297.7" r="3.0"/><circle cx="348.5" cy="299.7" r="3.0"/><circle cx="348.8" cy="298.5" r="3.0"/><circle cx="348.9" cy="295.3" r="3.0"/><circle cx="349.1" cy="298.6" r="3.0"/><circle cx="349.2" cy="297.0" r="3.0"/><circle cx="349.5" cy="301.0" r="3.0"/><circle cx="349.6" cy="295.8" r="3.0"/><circle cx="349.8" cy="296.8" r="3.0"/><circle cx="350.0" cy="298.0" r="3.0"/><circle cx="350.2" cy="297.9" r="3.0"/><circle cx="350.4" cy="298.6" r="3.0"/><circle cx="350.7" cy="299.3" r="3.0"/><circle cx="350.8" cy="295.8" r="3.0"/><circle cx="351.0" cy="294.8" r="3.0"/><circle cx="351.2" cy="298.4" r="3.0"/><circle cx="351.3" cy="296.7" r="3.0"/><circle cx="351.5" cy="295.3" r="3.0"/><circle cx="351.7" cy="297.1" r="3.0"/><circle cx="351.9" cy="297.4" r="3.0"/><circle cx="352.0" cy="294.0" r="3.0"/><circle cx="352.2" cy="298.5" r="3.0"/><circle cx="352.4" cy="295.2" r="3.0"/><circle cx="352.7" cy="299.3" r="3.0"/><circle cx="352.8" cy="297.1" r="3.0"/><circle cx="353.0" cy="297.6" r="3.0"/><circle cx="353.2" cy="295.4" r="3.0"/><circle cx="353.3" cy="296.5" r="3.0"/><circle cx="353.6" cy="294.0" r="3.0"/><circle cx="353.7" cy="294.5" r="3.0"/><circle cx="353.9" cy="299.7" r="3.0"/><circle cx="354.3" cy="301.7" r="3.0"/><circle cx="354.4" cy="301.5" r="3.0"/><circle cx="354.6" cy="300.1" r="3.0"/><circle cx="354.7" cy="297.5" r="3.0"/><circle cx="354.8" cy="294.8" r="3.0"/><circle cx="355.0" cy="294.5" r="3.0"/><circle cx="355.2" cy="295.0" r="3.0"/><circle cx="355.5" cy="296.0" r="3.0"/><circle cx="355.7" cy="297.4" r="3.0"/><circle cx="355.9" cy="295.6" r="3.0"/><circle cx="356.1" cy="295.1" r="3.0"/><circle cx="356.3" cy="298.3" r="3.0"/><circle cx="356.5" cy="296.3" r="3.0"/><circle cx="356.7" cy="296.3" r="3.0"/><circle cx="356.9" cy="299.0" r="3.0"/><circle cx="357.2" cy="295.8" r="3.0"/><circle cx="357.3" cy="296.7" r="3.0"/><circle cx="357.3" cy="299.9" r="3.0"/><circle cx="357.9" cy="296.1" r="3.0"/><circle cx="357.6" cy="299.9" r="3.0"/><circle cx="358.5" cy="294.2" r="3.0"/><circle cx="358.3" cy="297.0" r="3.0"/><circle cx="358.4" cy="297.4" r="3.0"/><circle cx="358.6" cy="297.1" r="3.0"/><circle cx="358.8" cy="297.2" r="3.0"/><circle cx="358.6" cy="299.3" r="3.0"/><circle cx="359.2" cy="297.2" r="3.0"/><circle cx="359.2" cy="298.3" r="3.0"/><circle cx="359.1" cy="299.2" r="3.0"/><circle cx="359.3" cy="299.2" r="3.0"/><circle cx="360.4" cy="296.0" r="3.0"/><circle cx="359.9" cy="298.7" r="3.0"/><circle cx="360.6" cy="296.9" r="3.0"/><circle cx="360.9" cy="296.4" r="3.0"/><circle cx="360.9" cy="297.4" r="3.0"/><circle cx="360.7" cy="298.7" r="3.0"/><circle cx="361.3" cy="296.7" r="3.0"/><circle cx="360.9" cy="299.6" r="3.0"/><circle cx="362.1" cy="295.5" r="3.0"/><circle cx="362.1" cy="296.5" r="3.0"/><circle cx="362.5" cy="295.5" r="3.0"/><circle cx="362.8" cy="295.1" r="3.0"/><circle cx="361.7" cy="300.8" r="3.0"/><circle cx="363.1" cy="295.7" r="3.0"/><circle cx="363.3" cy="295.5" r="3.0"/><circle cx="362.6" cy="299.7" r="3.0"/><circle cx="362.7" cy="300.2" r="3.0"/><circle cx="363.9" cy="296.2" r="3.0"/><circle cx="364.2" cy="295.9" r="3.0"/><circle cx="363.1" cy="300.9" r="3.0"/><circle cx="364.2" cy="297.5" r="3.0"/><circle cx="363.6" cy="300.7" r="3.0"/><circle cx="364.7" cy="297.4" r="3.0"/><circle cx="365.2" cy="296.5" r="3.0"/><circle cx="365.1" cy="297.0" r="3.0"/><circle cx="363.8" cy="301.8" r="3.0"/><circle cx="364.2" cy="300.9" r="3.0"/><circle cx="366.2" cy="296.4" r="3.0"/><circle cx="364.8" cy="300.2" r="3.0"/><circle cx="365.2" cy="299.8" r="3.0"/><circle cx="366.0" cy="298.6" r="3.0"/><circle cx="366.6" cy="297.8" r="3.0"/><circle cx="366.5" cy="298.4" r="3.0"/><circle cx="367.4" cy="297.6" r="3.0"/><circle cx="366.8" cy="299.0" r="3.0"/><circle cx="367.8" cy="297.8" r="3.0"/><circle cx="367.9" cy="298.2" r="3.0"/><circle cx="367.5" cy="299.1" r="3.0"/><circle cx="368.2" cy="298.6" r="3.0"/><circle cx="367.8" cy="299.6" r="3.0"/><circle cx="366.7" cy="301.1" r="3.0"/><circle cx="365.9" cy="302.5" r="3.0"/><circle cx="366.0" cy="302.6" r="3.0"/><circle cx="368.6" cy="299.6" r="3.0"/><circle cx="367.6" cy="301.2" r="3.0"/><circle cx="366.5" cy="302.8" r="3.0"/><circle cx="368.8" cy="300.3" r="3.0"/><circle cx="368.9" cy="300.4" r="3.0"/><circle cx="369.2" cy="300.2" r="3.0"/><circle cx="368.8" cy="301.2" r="3.0"/><circle cx="369.9" cy="300.0" r="3.0"/><circle cx="370.5" cy="299.5" r="3.0"/><circle cx="370.1" cy="300.2" r="3.0"/><circle cx="370.4" cy="300.3" r="3.0"/><circle cx="368.2" cy="303.4" r="3.0"/><circle cx="369.4" cy="302.2" r="3.0"/><circle cx="368.2" cy="304.1" r="3.0"/><circle cx="371.0" cy="300.9" r="3.0"/><circle cx="372.0" cy="299.9" r="3.0"/><circle cx="372.1" cy="300.1" r="3.0"/><circle cx="370.3" cy="302.6" r="3.0"/><circle cx="369.3" cy="304.2" r="3.0"/><circle cx="371.7" cy="301.6" r="3.0"/><circle cx="371.6" cy="302.0" r="3.0"/><circle cx="372.2" cy="301.8" r="3.0"/><circle cx="371.1" cy="303.2" r="3.0"/><circle cx="369.4" cy="305.2" r="3.0"/><circle cx="370.5" cy="304.2" r="3.0"/><circle cx="372.9" cy="302.2" r="3.0"/><circle cx="370.3" cy="305.2" r="3.0"/><circle cx="371.9" cy="303.8" r="3.0"/><circle cx="373.4" cy="302.6" r="3.0"/><circle cx="373.8" cy="302.6" r="3.0"/><circle cx="370.4" cy="306.1" r="3.0"/><circle cx="370.5" cy="306.3" r="3.0"/><circle cx="368.9" cy="308.1" r="3.0"/><circle cx="371.2" cy="306.2" r="3.0"/><circle cx="373.4" cy="304.4" r="3.0"/><circle cx="373.4" cy="304.7" r="3.0"/><circle cx="371.2" cy="307.2" r="3.0"/><circle cx="371.6" cy="307.0" r="3.0"/><circle cx="372.2" cy="306.9" r="3.0"/><circle cx="373.3" cy="306.1" r="3.0"/><circle cx="373.3" cy="306.4" r="3.0"/><circle cx="374.4" cy="305.8" r="3.0"/><circle cx="373.1" cy="307.1" r="3.0"/><circle cx="372.9" cy="307.7" r="3.0"/><circle cx="373.2" cy="307.7" r="3.0"/><circle cx="376.4" cy="304.9" r="3.0"/><circle cx="373.1" cy="308.2" r="3.0"/><circle cx="375.8" cy="306.0" r="3.0"/><circle cx="373.6" cy="308.5" r="3.0"/><circle cx="375.0" cy="307.4" r="3.0"/><circle cx="373.4" cy="309.2" r="3.0"/><circle cx="374.6" cy="308.3" r="3.0"/><circle cx="374.1" cy="309.1" r="3.0"/><circle cx="377.4" cy="306.2" r="3.0"/><circle cx="377.0" cy="307.0" r="3.0"/><circle cx="375.5" cy="308.6" r="3.0"/><circle cx="374.5" cy="309.9" r="3.0"/><circle cx="374.7" cy="309.8" r="3.0"/><circle cx="377.6" cy="307.5" r="3.0"/><circle cx="374.8" cy="310.2" r="3.0"/><circle cx="375.2" cy="310.1" r="3.0"/><circle cx="377.3" cy="308.6" r="3.0"/><circle cx="375.5" cy="310.3" r="3.0"/><circle cx="378.6" cy="308.0" r="3.0"/><circle cx="378.0" cy="308.8" r="3.0"/><circle cx="378.2" cy="308.8" r="3.0"/><circle cx="379.1" cy="308.3" r="3.0"/><circle cx="379.0" cy="308.6" r="3.0"/><circle cx="375.9" cy="311.3" r="3.0"/><circle cx="379.0" cy="309.1" r="3.0"/><circle cx="377.9" cy="310.2" r="3.0"/><circle cx="377.0" cy="311.2" r="3.0"/><circle cx="378.6" cy="310.2" r="3.0"/><circle cx="377.3" cy="311.5" r="3.0"/><circle cx="378.0" cy="311.0" r="3.0"/><circle cx="378.5" cy="310.9" r="3.0"/><circle cx="377.1" cy="312.2" r="3.0"/><circle cx="379.8" cy="310.4" r="3.0"/><circle cx="378.6" cy="311.6" r="3.0"/><circle cx="376.5" cy="313.6" r="3.0"/><circle cx="378.1" cy="312.5" r="3.0"/><circle cx="379.7" cy="311.7" r="3.0"/><circle cx="376.0" cy="314.5" r="3.0"/><circle cx="380.9" cy="311.1" r="3.0"/><circle cx="381.1" cy="311.3" r="3.0"/><circle cx="378.5" cy="313.4" r="3.0"/><circle cx="380.6" cy="312.3" r="3.0"/><circle cx="378.6" cy="313.9" r="3.0"/><circle cx="379.3" cy="313.6" r="3.0"/><circle cx="381.5" cy="312.1" r="3.0"/><circle cx="380.3" cy="313.2" r="3.0"/><circle cx="377.8" cy="315.5" r="3.0"/><circle cx="380.5" cy="313.5" r="3.0"/><circle cx="381.9" cy="312.7" r="3.0"/><circle cx="381.7" cy="313.3" r="3.0"/><circle cx="382.2" cy="313.0" r="3.0"/><circle cx="381.9" cy="313.5" r="3.0"/><circle cx="381.8" cy="313.8" r="3.0"/><circle cx="379.3" cy="315.8" r="3.0"/><circle cx="381.6" cy="314.3" r="3.0"/><circle cx="379.2" cy="316.5" r="3.0"/><circle cx="382.7" cy="314.2" r="3.0"/><circle cx="380.5" cy="315.9" r="3.0"/><circle cx="380.1" cy="316.5" r="3.0"/><circle cx="383.7" cy="314.0" r="3.0"/><circle cx="381.9" cy="315.7" r="3.0"/><circle cx="380.1" cy="317.3" r="3.0"/><circle cx="383.1" cy="315.5" r="3.0"/><circle cx="380.9" cy="317.2" r="3.0"/><circle cx="383.6" cy="315.7" r="3.0"/><circle cx="383.7" cy="315.9" r="3.0"/><circle cx="381.7" cy="317.6" r="3.0"/><circle cx="383.5" cy="316.5" r="3.0"/><circle cx="381.2" cy="318.4" r="3.0"/><circle cx="383.2" cy="317.2" r="3.0"/><circle cx="383.9" cy="317.1" r="3.0"/><circle cx="387.1" cy="315.0" r="3.0"/><circle cx="383.6" cy="317.7" r="3.0"/><circle cx="382.3" cy="318.9" r="3.0"/><circle cx="383.3" cy="318.4" r="3.0"/><circle cx="383.9" cy="318.3" r="3.0"/><circle cx="381.5" cy="320.3" r="3.0"/><circle cx="383.1" cy="319.4" r="3.0"/><circle cx="384.2" cy="319.0" r="3.0"/><circle cx="382.3" cy="320.6" r="3.0"/><circle cx="386.2" cy="318.1" r="3.0"/><circle cx="383.2" cy="320.4" r="3.0"/><circle cx="386.4" cy="318.4" r="3.0"/><circle cx="385.0" cy="319.7" r="3.0"/><circle cx="386.0" cy="319.3" r="3.0"/><circle cx="383.4" cy="321.4" r="3.0"/><circle cx="386.0" cy="319.9" r="3.0"/><circle cx="385.5" cy="320.5" r="3.0"/><circle cx="384.7" cy="321.2" r="3.0"/><circle cx="387.4" cy="319.6" r="3.0"/><circle cx="385.4" cy="321.2" r="3.0"/><circle cx="386.5" cy="320.8" r="3.0"/><circle cx="385.2" cy="321.9" r="3.0"/><circle cx="385.0" cy="322.2" r="3.0"/><circle cx="386.2" cy="321.4" r="3.0"/><circle cx="389.2" cy="319.8" r="3.0"/><circle cx="389.1" cy="320.1" r="3.0"/><circle cx="385.6" cy="322.5" r="3.0"/><circle cx="386.5" cy="322.2" r="3.0"/><circle cx="387.4" cy="321.9" r="3.0"/><circle cx="387.2" cy="322.3" r="3.0"/><circle cx="385.9" cy="323.3" r="3.0"/><circle cx="387.6" cy="322.6" r="3.0"/><circle cx="386.2" cy="323.6" r="3.0"/><circle cx="388.0" cy="322.9" r="3.0"/><circle cx="385.2" cy="324.5" r="3.0"/><circle cx="388.6" cy="322.9" r="3.0"/><circle cx="389.4" cy="322.9" r="3.0"/><circle cx="385.3" cy="325.1" r="3.0"/><circle cx="386.2" cy="324.7" r="3.0"/><circle cx="389.4" cy="323.5" r="3.0"/><circle cx="385.7" cy="325.5" r="3.0"/><circle cx="388.0" cy="324.5" r="3.0"/><circle cx="387.0" cy="325.3" r="3.0"/><circle cx="386.2" cy="325.9" r="3.0"/><circle cx="389.8" cy="324.3" r="3.0"/><circle cx="386.8" cy="326.1" r="3.0"/><circle cx="389.3" cy="325.1" r="3.0"/><circle cx="388.2" cy="325.8" r="3.0"/><circle cx="388.8" cy="325.8" r="3.0"/><circle cx="386.9" cy="327.1" r="3.0"/><circle cx="389.1" cy="326.1" r="3.0"/><circle cx="389.8" cy="326.1" r="3.0"/><circle cx="390.8" cy="325.7" r="3.0"/><circle cx="388.3" cy="327.3" r="3.0"/><circle cx="389.9" cy="326.6" r="3.0"/><circle cx="390.7" cy="326.5" r="3.0"/><circle cx="390.8" cy="326.7" r="3.0"/><circle cx="390.0" cy="327.3" r="3.0"/><circle cx="390.5" cy="327.4" r="3.0"/><circle cx="389.8" cy="327.9" r="3.0"/><circle cx="390.5" cy="327.8" r="3.0"/><circle cx="389.2" cy="328.7" r="3.0"/><circle cx="391.0" cy="328.1" r="3.0"/><circle cx="389.4" cy="329.1" r="3.0"/><circle cx="388.2" cy="329.9" r="3.0"/><circle cx="390.2" cy="329.1" r="3.0"/><circle cx="389.7" cy="329.7" r="3.0"/><circle cx="390.9" cy="329.4" r="3.0"/><circle cx="390.0" cy="330.0" r="3.0"/><circle cx="390.1" cy="330.1" r="3.0"/><circle cx="392.0" cy="329.4" r="3.0"/><circle cx="389.8" cy="330.8" r="3.0"/><circle cx="388.9" cy="331.4" r="3.0"/><circle cx="391.0" cy="330.6" r="3.0"/><circle cx="390.7" cy="331.1" r="3.0"/><circle cx="392.8" cy="330.4" r="3.0"/><circle cx="390.9" cy="331.4" r="3.0"/><circle cx="389.5" cy="332.4" r="3.0"/><circle cx="391.8" cy="331.5" r="3.0"/><circle cx="393.1" cy="331.1" r="3.0"/><circle cx="391.2" cy="332.2" r="3.0"/><circle cx="390.0" cy="332.8" r="3.0"/><circle cx="390.0" cy="333.1" r="3.0"/><circle cx="390.1" cy="333.3" r="3.0"/><circle cx="392.1" cy="332.7" r="3.0"/><circle cx="392.0" cy="332.9" r="3.0"/><circle cx="391.7" cy="333.2" r="3.0"/><circle cx="390.2" cy="334.1" r="3.0"/><circle cx="392.8" cy="333.2" r="3.0"/><circle cx="390.7" cy="334.3" r="3.0"/><circle cx="390.9" cy="334.4" r="3.0"/><circle cx="393.2" cy="333.7" r="3.0"/><circle cx="391.0" cy="334.8" r="3.0"/><circle cx="392.5" cy="334.4" r="3.0"/><circle cx="391.4" cy="335.1" r="3.0"/><circle cx="391.4" cy="335.3" r="3.0"/><circle cx="393.0" cy="334.8" r="3.0"/><circle cx="392.4" cy="335.3" r="3.0"/><circle cx="391.4" cy="336.0" r="3.0"/><circle cx="391.7" cy="336.1" r="3.0"/><circle cx="393.6" cy="335.5" r="3.0"/><circle cx="393.6" cy="335.8" r="3.0"/><circle cx="393.8" cy="335.9" r="3.0"/><circle cx="393.9" cy="336.1" r="3.0"/><circle cx="393.8" cy="336.3" r="3.0"/><circle cx="394.2" cy="336.4" r="3.0"/><circle cx="394.0" cy="336.6" r="3.0"/><circle cx="394.2" cy="336.7" r="3.0"/><circle cx="393.8" cy="337.0" r="3.0"/><circle cx="394.5" cy="336.9" r="3.0"/><circle cx="394.2" cy="337.3" r="3.0"/><circle cx="392.4" cy="338.3" r="3.0"/><circle cx="392.6" cy="338.5" r="3.0"/><circle cx="394.0" cy="338.1" r="3.0"/><circle cx="393.0" cy="338.8" r="3.0"/><circle cx="392.7" cy="339.0" r="3.0"/><circle cx="393.7" cy="338.9" r="3.0"/><circle cx="393.5" cy="339.1" r="3.0"/><circle cx="394.7" cy="338.7" r="3.0"/><circle cx="392.9" cy="339.6" r="3.0"/><circle cx="394.9" cy="338.9" r="3.0"/><circle cx="392.9" cy="340.2" r="3.0"/><circle cx="393.4" cy="340.1" r="3.0"/><circle cx="394.0" cy="340.0" r="3.0"/><circle cx="393.4" cy="340.5" r="3.0"/><circle cx="395.1" cy="340.0" r="3.0"/><circle cx="395.9" cy="339.8" r="3.0"/><circle cx="395.3" cy="340.2" r="3.0"/><circle cx="393.9" cy="341.0" r="3.0"/><circle cx="396.0" cy="340.4" r="3.0"/><circle cx="395.3" cy="340.9" r="3.0"/><circle cx="395.7" cy="340.9" r="3.0"/><circle cx="395.7" cy="341.2" r="3.0"/><circle cx="395.3" cy="341.6" r="3.0"/><circle cx="394.7" cy="342.1" r="3.0"/><circle cx="395.4" cy="342.0" r="3.0"/><circle cx="395.2" cy="342.3" r="3.0"/><circle cx="396.7" cy="341.8" r="3.0"/><circle cx="395.1" cy="342.7" r="3.0"/><circle cx="394.7" cy="343.0" r="3.0"/><circle cx="396.7" cy="342.4" r="3.0"/><circle cx="395.4" cy="343.0" r="3.0"/><circle cx="396.8" cy="342.7" r="3.0"/><circle cx="395.3" cy="343.4" r="3.0"/><circle cx="395.7" cy="343.6" r="3.0"/><circle cx="396.6" cy="343.4" r="3.0"/><circle cx="396.3" cy="343.8" r="3.0"/><circle cx="396.8" cy="343.8" r="3.0"/><circle cx="395.4" cy="344.7" r="3.0"/><circle cx="397.6" cy="343.9" r="3.0"/><circle cx="395.4" cy="345.0" r="3.0"/><circle cx="397.4" cy="344.4" r="3.0"/><circle cx="396.0" cy="345.2" r="3.0"/><circle cx="398.2" cy="344.6" r="3.0"/><circle cx="396.1" cy="345.6" r="3.0"/><circle cx="396.8" cy="345.6" r="3.0"/><circle cx="396.7" cy="346.0" r="3.0"/><circle cx="397.9" cy="345.7" r="3.0"/><circle cx="396.4" cy="346.6" r="3.0"/><circle cx="396.0" cy="347.0" r="3.0"/><circle cx="395.9" cy="347.2" r="3.0"/><circle cx="396.1" cy="347.3" r="3.0"/><circle cx="396.3" cy="347.4" r="3.0"/><circle cx="397.9" cy="346.9" r="3.0"/><circle cx="398.4" cy="347.0" r="3.0"/><circle cx="397.8" cy="347.5" r="3.0"/><circle cx="396.2" cy="348.3" r="3.0"/><circle cx="396.6" cy="348.3" r="3.0"/><circle cx="398.3" cy="347.8" r="3.0"/><circle cx="398.2" cy="348.0" r="3.0"/><circle cx="397.4" cy="348.6" r="3.0"/><circle cx="397.9" cy="348.8" r="3.0"/><circle cx="398.2" cy="348.9" r="3.0"/><circle cx="398.1" cy="349.2" r="3.0"/><circle cx="399.2" cy="349.0" r="3.0"/><circle cx="398.2" cy="349.7" r="3.0"/><circle cx="399.9" cy="349.2" r="3.0"/><circle cx="398.2" cy="350.2" r="3.0"/><circle cx="398.7" cy="350.3" r="3.0"/><circle cx="399.8" cy="350.2" r="3.0"/><circle cx="399.5" cy="350.6" r="3.0"/><circle cx="398.7" cy="351.3" r="3.0"/><circle cx="400.7" cy="350.6" r="3.0"/><circle cx="398.5" cy="351.8" r="3.0"/><circle cx="398.9" cy="351.9" r="3.0"/><circle cx="400.3" cy="351.7" r="3.0"/><circle cx="400.1" cy="352.0" r="3.0"/><circle cx="400.7" cy="352.1" r="3.0"/><circle cx="400.3" cy="352.6" r="3.0"/><circle cx="399.4" cy="353.4" r="3.0"/><circle cx="400.5" cy="353.2" r="3.0"/><circle cx="401.2" cy="353.3" r="3.0"/><circle cx="402.0" cy="353.5" r="3.0"/><circle cx="402.3" cy="353.7" r="3.0"/><circle cx="400.8" cy="355.0" r="3.0"/><circle cx="400.5" cy="355.7" r="3.0"/><circle cx="402.2" cy="355.6" r="3.0"/><circle cx="402.3" cy="356.4" r="3.0"/><circle cx="401.3" cy="357.3" r="3.0"/><circle cx="401.0" cy="358.2" r="3.0"/><circle cx="403.7" cy="357.9" r="3.0"/><circle cx="403.6" cy="358.7" r="3.0"/><circle cx="404.1" cy="359.4" r="3.0"/><circle cx="402.4" cy="360.9" r="3.0"/><circle cx="403.9" cy="361.6" r="3.0"/><circle cx="404.4" cy="363.1" r="3.0"/><circle cx="403.6" cy="364.7" r="3.0"/><circle cx="405.9" cy="365.9" r="3.0"/><circle cx="406.3" cy="367.5" r="3.0"/><circle cx="407.3" cy="369.1" r="3.0"/><circle cx="407.9" cy="370.0" r="3.0"/><circle cx="406.7" cy="372.2" r="3.0"/><circle cx="408.9" cy="373.4" r="3.0"/><circle cx="408.3" cy="375.5" r="3.0"/><circle cx="409.7" cy="376.9" r="3.0"/><circle cx="410.4" cy="377.8" r="3.0"/><circle cx="409.6" cy="379.5" r="3.0"/><circle cx="410.5" cy="380.4" r="3.0"/><circle cx="410.3" cy="381.6" r="3.0"/><circle cx="410.5" cy="382.7" r="3.0"/><circle cx="412.2" cy="383.8" r="3.0"/><circle cx="413.1" cy="385.2" r="3.0"/><circle cx="413.9" cy="386.6" r="3.0"/><circle cx="414.0" cy="388.0" r="3.0"/><circle cx="414.5" cy="389.9" r="3.0"/><circle cx="415.6" cy="391.6" r="3.0"/><circle cx="417.7" cy="392.5" r="3.0"/><circle cx="419.1" cy="394.1" r="3.0"/><circle cx="419.7" cy="396.4" r="3.0"/><circle cx="420.7" cy="397.5" r="3.0"/><circle cx="423.0" cy="398.3" r="3.0"/><circle cx="424.7" cy="399.2" r="3.0"/><circle cx="426.0" cy="400.7" r="3.0"/><circle cx="427.2" cy="402.3" r="3.0"/><circle cx="428.0" cy="404.0" r="3.0"/><circle cx="429.3" cy="405.0" r="3.0"/><circle cx="431.0" cy="405.8" r="3.0"/><circle cx="433.2" cy="407.0" r="3.0"/><circle cx="434.5" cy="408.7" r="3.0"/><circle cx="436.5" cy="410.3" r="3.0"/><circle cx="437.9" cy="411.3" r="3.0"/><circle cx="439.4" cy="412.3" r="3.0"/><circle cx="440.7" cy="413.8" r="3.0"/><circle cx="441.4" cy="415.3" r="3.0"/><circle cx="442.7" cy="416.1" r="3.0"/><circle cx="444.6" cy="417.2" r="3.0"/><circle cx="405.5" cy="145.8" r="3.0"/><circle cx="405.6" cy="146.1" r="3.0"/><circle cx="405.9" cy="146.5" r="3.0"/><circle cx="406.3" cy="146.9" r="3.0"/><circle cx="406.1" cy="147.6" r="3.0"/><circle cx="407.3" cy="148.2" r="3.0"/><circle cx="407.4" cy="150.4" r="3.0"/><circle cx="406.5" cy="152.3" r="3.0"/><circle cx="406.9" cy="154.2" r="3.0"/><circle cx="407.8" cy="157.2" r="3.0"/><circle cx="409.0" cy="158.8" r="3.0"/><circle cx="409.2" cy="160.6" r="3.0"/><circle cx="410.0" cy="163.7" r="3.0"/><circle cx="411.4" cy="165.2" r="3.0"/><circle cx="411.5" cy="168.1" r="3.0"/><circle cx="411.5" cy="169.7" r="3.0"/><circle cx="412.2" cy="171.5" r="3.0"/><circle cx="410.6" cy="173.6" r="3.0"/><circle cx="412.3" cy="175.4" r="3.0"/><circle cx="413.7" cy="176.1" r="3.0"/><circle cx="413.6" cy="177.4" r="3.0"/><circle cx="415.0" cy="177.9" r="3.0"/><circle cx="415.0" cy="178.6" r="3.0"/><circle cx="414.3" cy="179.7" r="3.0"/><circle cx="415.4" cy="179.9" r="3.0"/><circle cx="415.2" cy="180.9" r="3.0"/><circle cx="416.2" cy="180.9" r="3.0"/><circle cx="416.6" cy="181.7" r="3.0"/><circle cx="417.2" cy="182.5" r="3.0"/><circle cx="417.4" cy="183.2" r="3.0"/><circle cx="418.4" cy="183.1" r="3.0"/><circle cx="419.2" cy="183.2" r="3.0"/><circle cx="419.8" cy="183.1" r="3.0"/><circle cx="420.0" cy="185.5" r="3.0"/><circle cx="420.5" cy="185.9" r="3.0"/><circle cx="421.2" cy="185.4" r="3.0"/><circle cx="422.0" cy="184.6" r="3.0"/><circle cx="422.6" cy="184.6" r="3.0"/><circle cx="423.6" cy="184.3" r="3.0"/><circle cx="424.1" cy="183.7" r="3.0"/><circle cx="425.0" cy="183.7" r="3.0"/><circle cx="425.7" cy="183.8" r="3.0"/><circle cx="427.0" cy="184.1" r="3.0"/><circle cx="427.8" cy="184.4" r="3.0"/><circle cx="428.8" cy="184.0" r="3.0"/><circle cx="430.9" cy="184.4" r="3.0"/><circle cx="432.9" cy="184.4" r="3.0"/><circle cx="434.2" cy="181.8" r="3.0"/><circle cx="437.4" cy="183.2" r="3.0"/><circle cx="439.0" cy="180.1" r="3.0"/><circle cx="440.8" cy="179.1" r="3.0"/><circle cx="443.1" cy="180.4" r="3.0"/><circle cx="445.4" cy="180.1" r="3.0"/><circle cx="447.7" cy="178.6" r="3.0"/><circle cx="450.4" cy="177.4" r="3.0"/><circle cx="453.0" cy="176.4" r="3.0"/><circle cx="455.6" cy="177.0" r="3.0"/><circle cx="457.1" cy="176.2" r="3.0"/><circle cx="462.7" cy="172.0" r="3.0"/><circle cx="469.6" cy="167.6" r="3.0"/><circle cx="479.3" cy="162.0" r="3.0"/><circle cx="514.8" cy="127.4" r="3.0"/><circle cx="448.6" cy="421.9" r="3.0"/><circle cx="451.3" cy="423.6" r="3.0"/><circle cx="454.6" cy="427.5" r="3.0"/><circle cx="457.9" cy="431.2" r="3.0"/><circle cx="462.7" cy="436.2" r="3.0"/><circle cx="469.6" cy="443.1" r="3.0"/><circle cx="479.3" cy="450.5" r="3.0"/><circle cx="514.8" cy="468.0" r="3.0"/></g>
</svg></body></html>
